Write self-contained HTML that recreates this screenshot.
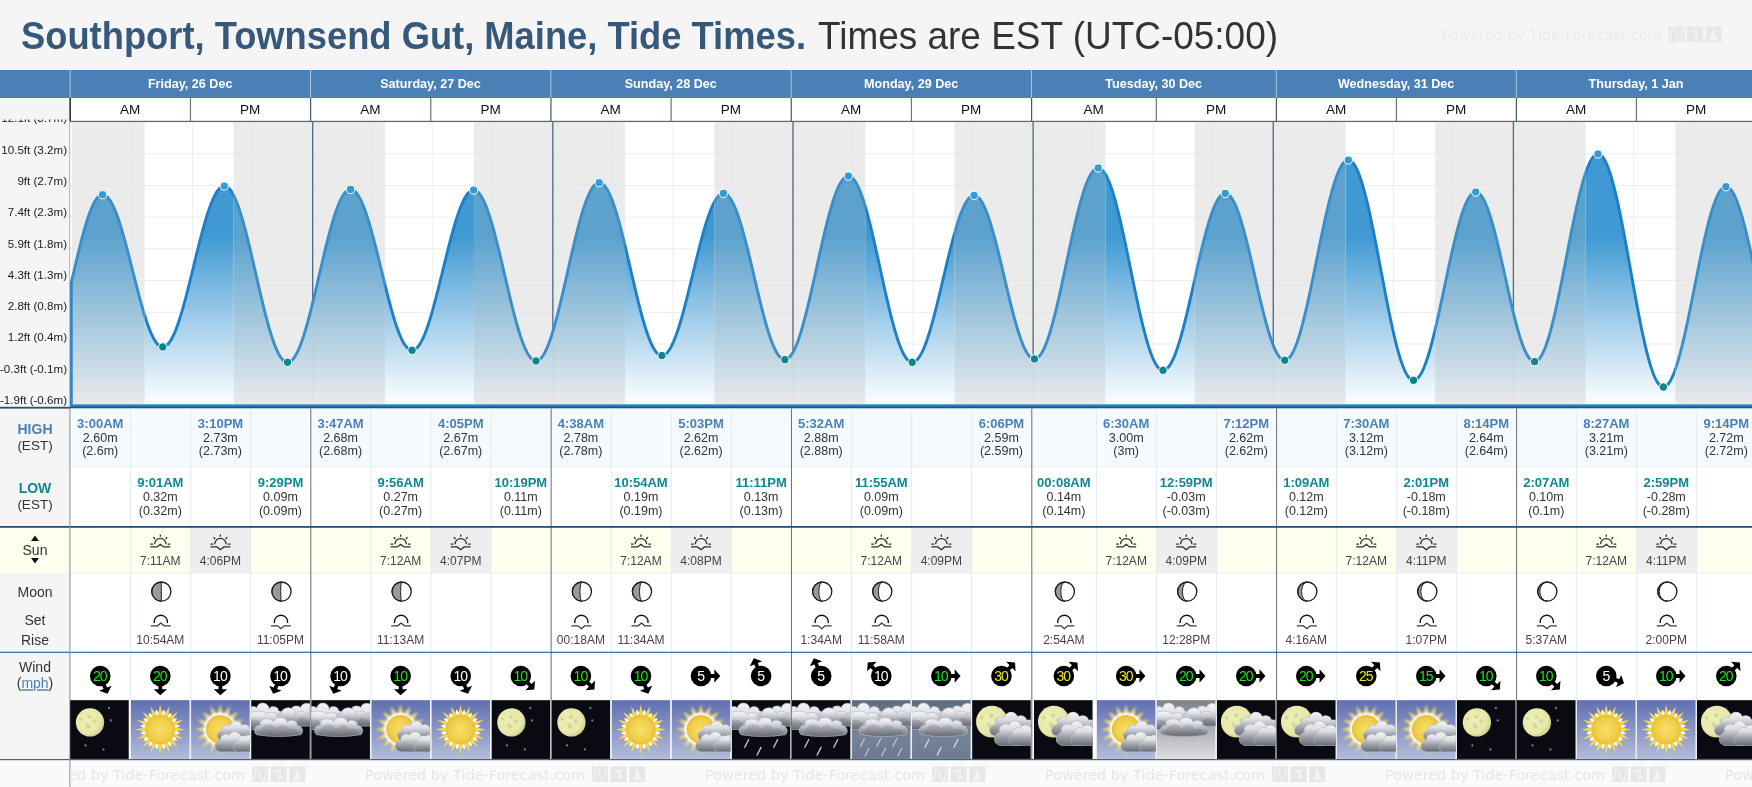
<!DOCTYPE html>
<html lang="en"><head><meta charset="utf-8"><title>Southport, Townsend Gut, Maine, Tide Times</title>
<style>html,body{margin:0;padding:0;background:#f5f5f5;}body{width:1752px;height:787px;overflow:hidden;}svg{display:block;will-change:transform;}</style>
</head><body>
<svg width="1752" height="787" viewBox="0 0 1752 787" font-family='"Liberation Sans", sans-serif'>
<defs>
<linearGradient id="tideFill" gradientUnits="userSpaceOnUse" x1="0" y1="122" x2="0" y2="406">
<stop offset="0" stop-color="#4099d2"/><stop offset="0.40" stop-color="#4099d2"/><stop offset="1" stop-color="#ffffff" stop-opacity="0.95"/></linearGradient>
<clipPath id="chartClip"><rect x="70" y="122" width="1682" height="286"/></clipPath>
<clipPath id="axisClip"><rect x="0" y="119.4" width="70" height="288"/></clipPath>
<clipPath id="footClip"><rect x="70" y="760" width="1682" height="27"/></clipPath>
</defs>
<rect width="1752" height="787" fill="#f5f5f5"/>
<text x="21" y="49" font-size="39" font-weight="bold" fill="#35587b" textLength="785" lengthAdjust="spacingAndGlyphs">Southport, Townsend Gut, Maine, Tide Times.</text>
<text x="818" y="49" font-size="39" fill="#333333" textLength="460" lengthAdjust="spacingAndGlyphs">Times are EST (UTC-05:00)</text>
<text x="1441.5" y="39.6" font-family="DejaVu Sans, sans-serif" font-size="14.4" fill="#ebebeb" textLength="220" lengthAdjust="spacingAndGlyphs">Powered by Tide-Forecast.com</text>
<rect x="1668.5" y="26.6" width="16" height="15.5" fill="#e7e7e7"/>
<rect x="1687.1" y="26.6" width="16" height="15.5" fill="#e7e7e7"/>
<rect x="1705.7" y="26.6" width="16" height="15.5" fill="#e7e7e7"/>
<path d="M1670.0,40.6 C1672.0,24.6 1674.0,24.6 1676.5,34.6 S1681.0,44.6 1683.0,28.1" fill="none" stroke="#f3f3f3" stroke-width="1.3"/>
<path d="M1690.1,31.1 H1696.6 V36.6" fill="none" stroke="#f3f3f3" stroke-width="1.8"/><path d="M1693.1,35.8 H1700.1 L1696.6,39.8 Z" fill="#f3f3f3"/>
<path d="M1713.7,28.6 L1717.9,40.6 H1709.5 Z" fill="#f3f3f3"/>
<rect x="0" y="70" width="1752" height="28" fill="#4a80b5"/>
<rect x="69.7" y="70" width="1" height="28" fill="#a9c2dd"/>
<text x="190.16" y="88" font-size="12.6" font-weight="bold" fill="#ffffff" text-anchor="middle">Friday, 26 Dec</text>
<rect x="310.02" y="70" width="1" height="28" fill="#a9c2dd"/>
<text x="430.48" y="88" font-size="12.6" font-weight="bold" fill="#ffffff" text-anchor="middle">Saturday, 27 Dec</text>
<rect x="550.34" y="70" width="1" height="28" fill="#a9c2dd"/>
<text x="670.8" y="88" font-size="12.6" font-weight="bold" fill="#ffffff" text-anchor="middle">Sunday, 28 Dec</text>
<rect x="790.6600000000001" y="70" width="1" height="28" fill="#a9c2dd"/>
<text x="911.13" y="88" font-size="12.6" font-weight="bold" fill="#ffffff" text-anchor="middle">Monday, 29 Dec</text>
<rect x="1031.0" y="70" width="1" height="28" fill="#a9c2dd"/>
<text x="1153.6999999999998" y="88" font-size="12.6" font-weight="bold" fill="#ffffff" text-anchor="middle">Tuesday, 30 Dec</text>
<rect x="1275.8" y="70" width="1" height="28" fill="#a9c2dd"/>
<text x="1396.1" y="88" font-size="12.6" font-weight="bold" fill="#ffffff" text-anchor="middle">Wednesday, 31 Dec</text>
<rect x="1515.8" y="70" width="1" height="28" fill="#a9c2dd"/>
<text x="1636.1" y="88" font-size="12.6" font-weight="bold" fill="#ffffff" text-anchor="middle">Thursday, 1 Jan</text>
<rect x="70" y="98" width="1682" height="23" fill="#ffffff"/>
<rect x="69.7" y="98" width="1.2" height="23" fill="#3d5a78"/>
<rect x="189.85999999999999" y="98" width="1.2" height="23" fill="#5d7892"/>
<text x="130.07999999999998" y="114" font-size="13.5" fill="#111" text-anchor="middle">AM</text>
<text x="250.24" y="114" font-size="13.5" fill="#111" text-anchor="middle">PM</text>
<rect x="310.02" y="98" width="1.2" height="23" fill="#3d5a78"/>
<rect x="430.18" y="98" width="1.2" height="23" fill="#5d7892"/>
<text x="370.4" y="114" font-size="13.5" fill="#111" text-anchor="middle">AM</text>
<text x="490.56" y="114" font-size="13.5" fill="#111" text-anchor="middle">PM</text>
<rect x="550.34" y="98" width="1.2" height="23" fill="#3d5a78"/>
<rect x="670.5" y="98" width="1.2" height="23" fill="#5d7892"/>
<text x="610.72" y="114" font-size="13.5" fill="#111" text-anchor="middle">AM</text>
<text x="730.88" y="114" font-size="13.5" fill="#111" text-anchor="middle">PM</text>
<rect x="790.6600000000001" y="98" width="1.2" height="23" fill="#3d5a78"/>
<rect x="910.82" y="98" width="1.2" height="23" fill="#5d7892"/>
<text x="851.04" y="114" font-size="13.5" fill="#111" text-anchor="middle">AM</text>
<text x="971.21" y="114" font-size="13.5" fill="#111" text-anchor="middle">PM</text>
<rect x="1031.0" y="98" width="1.2" height="23" fill="#3d5a78"/>
<rect x="1155.7" y="98" width="1.2" height="23" fill="#5d7892"/>
<text x="1093.65" y="114" font-size="13.5" fill="#111" text-anchor="middle">AM</text>
<text x="1216.05" y="114" font-size="13.5" fill="#111" text-anchor="middle">PM</text>
<rect x="1275.8" y="98" width="1.2" height="23" fill="#3d5a78"/>
<rect x="1395.8" y="98" width="1.2" height="23" fill="#5d7892"/>
<text x="1336.1" y="114" font-size="13.5" fill="#111" text-anchor="middle">AM</text>
<text x="1456.1" y="114" font-size="13.5" fill="#111" text-anchor="middle">PM</text>
<rect x="1515.8" y="98" width="1.2" height="23" fill="#3d5a78"/>
<rect x="1635.8" y="98" width="1.2" height="23" fill="#5d7892"/>
<text x="1576.1" y="114" font-size="13.5" fill="#111" text-anchor="middle">AM</text>
<text x="1696.1" y="114" font-size="13.5" fill="#111" text-anchor="middle">PM</text>
<rect x="69.5" y="98" width="1.2" height="23.5" fill="#1c2c3c"/>
<rect x="70" y="120.8" width="1682" height="1.3" fill="#666"/>
<g clip-path="url(#chartClip)">
<rect x="70" y="122" width="1682" height="285" fill="#ffffff"/>
<rect x="70" y="121.50" width="1682" height="1" fill="#ececec"/>
<rect x="70" y="153.22" width="1682" height="1" fill="#ececec"/>
<rect x="70" y="184.94" width="1682" height="1" fill="#ececec"/>
<rect x="70" y="216.66" width="1682" height="1" fill="#ececec"/>
<rect x="70" y="248.38" width="1682" height="1" fill="#ececec"/>
<rect x="70" y="280.10" width="1682" height="1" fill="#ececec"/>
<rect x="70" y="311.82" width="1682" height="1" fill="#ececec"/>
<rect x="70" y="343.54" width="1682" height="1" fill="#ececec"/>
<rect x="70" y="375.26" width="1682" height="1" fill="#ececec"/>
<rect x="70" y="406.98" width="1682" height="1" fill="#ececec"/>
<rect x="132.09" y="122" width="1" height="285" fill="#efefef"/>
<rect x="192.12" y="122" width="1" height="285" fill="#efefef"/>
<rect x="252.16" y="122" width="1" height="285" fill="#efefef"/>
<rect x="372.23" y="122" width="1" height="285" fill="#efefef"/>
<rect x="432.27" y="122" width="1" height="285" fill="#efefef"/>
<rect x="492.30" y="122" width="1" height="285" fill="#efefef"/>
<rect x="612.37" y="122" width="1" height="285" fill="#efefef"/>
<rect x="672.41" y="122" width="1" height="285" fill="#efefef"/>
<rect x="732.45" y="122" width="1" height="285" fill="#efefef"/>
<rect x="852.52" y="122" width="1" height="285" fill="#efefef"/>
<rect x="912.55" y="122" width="1" height="285" fill="#efefef"/>
<rect x="972.59" y="122" width="1" height="285" fill="#efefef"/>
<rect x="1092.66" y="122" width="1" height="285" fill="#efefef"/>
<rect x="1152.70" y="122" width="1" height="285" fill="#efefef"/>
<rect x="1212.73" y="122" width="1" height="285" fill="#efefef"/>
<rect x="1332.81" y="122" width="1" height="285" fill="#efefef"/>
<rect x="1392.84" y="122" width="1" height="285" fill="#efefef"/>
<rect x="1452.88" y="122" width="1" height="285" fill="#efefef"/>
<rect x="1572.95" y="122" width="1" height="285" fill="#efefef"/>
<rect x="1632.99" y="122" width="1" height="285" fill="#efefef"/>
<rect x="1693.02" y="122" width="1" height="285" fill="#efefef"/>
<rect x="71.95" y="122" width="72.68" height="285" fill="#ebebeb"/>
<rect x="233.65" y="122" width="151.29" height="285" fill="#ebebeb"/>
<rect x="473.96" y="122" width="151.12" height="285" fill="#ebebeb"/>
<rect x="714.27" y="122" width="150.96" height="285" fill="#ebebeb"/>
<rect x="954.58" y="122" width="150.79" height="285" fill="#ebebeb"/>
<rect x="1194.72" y="122" width="150.79" height="285" fill="#ebebeb"/>
<rect x="1435.20" y="122" width="150.46" height="285" fill="#ebebeb"/>
<rect x="1675.34" y="122" width="76.66" height="285" fill="#ebebeb"/>
<g fill="#e5e5e5">
<rect x="71.95" y="121.50" width="72.68" height="1"/>
<rect x="71.95" y="153.22" width="72.68" height="1"/>
<rect x="71.95" y="184.94" width="72.68" height="1"/>
<rect x="71.95" y="216.66" width="72.68" height="1"/>
<rect x="71.95" y="248.38" width="72.68" height="1"/>
<rect x="71.95" y="280.10" width="72.68" height="1"/>
<rect x="71.95" y="311.82" width="72.68" height="1"/>
<rect x="71.95" y="343.54" width="72.68" height="1"/>
<rect x="71.95" y="375.26" width="72.68" height="1"/>
<rect x="71.95" y="406.98" width="72.68" height="1"/>
<rect x="132.09" y="122" width="1" height="285" fill="#e7e7e7"/>
<rect x="233.65" y="121.50" width="151.29" height="1"/>
<rect x="233.65" y="153.22" width="151.29" height="1"/>
<rect x="233.65" y="184.94" width="151.29" height="1"/>
<rect x="233.65" y="216.66" width="151.29" height="1"/>
<rect x="233.65" y="248.38" width="151.29" height="1"/>
<rect x="233.65" y="280.10" width="151.29" height="1"/>
<rect x="233.65" y="311.82" width="151.29" height="1"/>
<rect x="233.65" y="343.54" width="151.29" height="1"/>
<rect x="233.65" y="375.26" width="151.29" height="1"/>
<rect x="233.65" y="406.98" width="151.29" height="1"/>
<rect x="252.16" y="122" width="1" height="285" fill="#e7e7e7"/>
<rect x="372.23" y="122" width="1" height="285" fill="#e7e7e7"/>
<rect x="473.96" y="121.50" width="151.12" height="1"/>
<rect x="473.96" y="153.22" width="151.12" height="1"/>
<rect x="473.96" y="184.94" width="151.12" height="1"/>
<rect x="473.96" y="216.66" width="151.12" height="1"/>
<rect x="473.96" y="248.38" width="151.12" height="1"/>
<rect x="473.96" y="280.10" width="151.12" height="1"/>
<rect x="473.96" y="311.82" width="151.12" height="1"/>
<rect x="473.96" y="343.54" width="151.12" height="1"/>
<rect x="473.96" y="375.26" width="151.12" height="1"/>
<rect x="473.96" y="406.98" width="151.12" height="1"/>
<rect x="492.30" y="122" width="1" height="285" fill="#e7e7e7"/>
<rect x="612.37" y="122" width="1" height="285" fill="#e7e7e7"/>
<rect x="714.27" y="121.50" width="150.96" height="1"/>
<rect x="714.27" y="153.22" width="150.96" height="1"/>
<rect x="714.27" y="184.94" width="150.96" height="1"/>
<rect x="714.27" y="216.66" width="150.96" height="1"/>
<rect x="714.27" y="248.38" width="150.96" height="1"/>
<rect x="714.27" y="280.10" width="150.96" height="1"/>
<rect x="714.27" y="311.82" width="150.96" height="1"/>
<rect x="714.27" y="343.54" width="150.96" height="1"/>
<rect x="714.27" y="375.26" width="150.96" height="1"/>
<rect x="714.27" y="406.98" width="150.96" height="1"/>
<rect x="732.45" y="122" width="1" height="285" fill="#e7e7e7"/>
<rect x="852.52" y="122" width="1" height="285" fill="#e7e7e7"/>
<rect x="954.58" y="121.50" width="150.79" height="1"/>
<rect x="954.58" y="153.22" width="150.79" height="1"/>
<rect x="954.58" y="184.94" width="150.79" height="1"/>
<rect x="954.58" y="216.66" width="150.79" height="1"/>
<rect x="954.58" y="248.38" width="150.79" height="1"/>
<rect x="954.58" y="280.10" width="150.79" height="1"/>
<rect x="954.58" y="311.82" width="150.79" height="1"/>
<rect x="954.58" y="343.54" width="150.79" height="1"/>
<rect x="954.58" y="375.26" width="150.79" height="1"/>
<rect x="954.58" y="406.98" width="150.79" height="1"/>
<rect x="972.59" y="122" width="1" height="285" fill="#e7e7e7"/>
<rect x="1092.66" y="122" width="1" height="285" fill="#e7e7e7"/>
<rect x="1194.72" y="121.50" width="150.79" height="1"/>
<rect x="1194.72" y="153.22" width="150.79" height="1"/>
<rect x="1194.72" y="184.94" width="150.79" height="1"/>
<rect x="1194.72" y="216.66" width="150.79" height="1"/>
<rect x="1194.72" y="248.38" width="150.79" height="1"/>
<rect x="1194.72" y="280.10" width="150.79" height="1"/>
<rect x="1194.72" y="311.82" width="150.79" height="1"/>
<rect x="1194.72" y="343.54" width="150.79" height="1"/>
<rect x="1194.72" y="375.26" width="150.79" height="1"/>
<rect x="1194.72" y="406.98" width="150.79" height="1"/>
<rect x="1212.73" y="122" width="1" height="285" fill="#e7e7e7"/>
<rect x="1332.81" y="122" width="1" height="285" fill="#e7e7e7"/>
<rect x="1435.20" y="121.50" width="150.46" height="1"/>
<rect x="1435.20" y="153.22" width="150.46" height="1"/>
<rect x="1435.20" y="184.94" width="150.46" height="1"/>
<rect x="1435.20" y="216.66" width="150.46" height="1"/>
<rect x="1435.20" y="248.38" width="150.46" height="1"/>
<rect x="1435.20" y="280.10" width="150.46" height="1"/>
<rect x="1435.20" y="311.82" width="150.46" height="1"/>
<rect x="1435.20" y="343.54" width="150.46" height="1"/>
<rect x="1435.20" y="375.26" width="150.46" height="1"/>
<rect x="1435.20" y="406.98" width="150.46" height="1"/>
<rect x="1452.88" y="122" width="1" height="285" fill="#e7e7e7"/>
<rect x="1572.95" y="122" width="1" height="285" fill="#e7e7e7"/>
<rect x="1675.34" y="121.50" width="76.66" height="1"/>
<rect x="1675.34" y="153.22" width="76.66" height="1"/>
<rect x="1675.34" y="184.94" width="76.66" height="1"/>
<rect x="1675.34" y="216.66" width="76.66" height="1"/>
<rect x="1675.34" y="248.38" width="76.66" height="1"/>
<rect x="1675.34" y="280.10" width="76.66" height="1"/>
<rect x="1675.34" y="311.82" width="76.66" height="1"/>
<rect x="1675.34" y="343.54" width="76.66" height="1"/>
<rect x="1675.34" y="375.26" width="76.66" height="1"/>
<rect x="1675.34" y="406.98" width="76.66" height="1"/>
<rect x="1693.02" y="122" width="1" height="285" fill="#e7e7e7"/>
</g>
<rect x="312.04" y="122" width="1.3" height="285" fill="#4a6888"/>
<rect x="552.19" y="122" width="1.3" height="285" fill="#4a6888"/>
<rect x="792.33" y="122" width="1.3" height="285" fill="#4a6888"/>
<rect x="1032.48" y="122" width="1.3" height="285" fill="#4a6888"/>
<rect x="1272.62" y="122" width="1.3" height="285" fill="#4a6888"/>
<rect x="1512.76" y="122" width="1.3" height="285" fill="#4a6888"/>
<defs><path id="tideP" d="M71.35,406 L71.35,284.04 L71.05,284.04 L72.05,279.70 L73.05,275.35 L74.05,271.01 L75.05,266.69 L76.05,262.40 L77.05,258.15 L78.05,253.96 L79.05,249.84 L80.05,245.79 L81.06,241.83 L82.06,237.96 L83.06,234.21 L84.06,230.58 L85.06,227.07 L86.06,223.71 L87.06,220.49 L88.06,217.42 L89.06,214.53 L90.06,211.80 L91.06,209.26 L92.06,206.90 L93.06,204.74 L94.06,202.77 L95.06,201.01 L96.06,199.46 L97.06,198.13 L98.07,197.01 L99.07,196.11 L100.07,195.43 L101.07,194.98 L102.07,194.75 L103.07,194.75 L104.07,194.96 L105.07,195.37 L106.07,195.99 L107.07,196.82 L108.07,197.84 L109.07,199.06 L110.07,200.48 L111.07,202.10 L112.07,203.90 L113.07,205.88 L114.07,208.04 L115.08,210.37 L116.08,212.86 L117.08,215.51 L118.08,218.32 L119.08,221.26 L120.08,224.34 L121.08,227.55 L122.08,230.88 L123.08,234.31 L124.08,237.85 L125.08,241.47 L126.08,245.18 L127.08,248.95 L128.08,252.78 L129.08,256.67 L130.08,260.59 L131.09,264.54 L132.09,268.51 L133.09,272.48 L134.09,276.45 L135.09,280.40 L136.09,284.33 L137.09,288.22 L138.09,292.06 L139.09,295.85 L140.09,299.56 L141.09,303.20 L142.09,306.75 L143.09,310.21 L144.09,313.55 L145.09,316.78 L146.09,319.88 L147.09,322.85 L148.10,325.68 L149.10,328.36 L150.10,330.88 L151.10,333.24 L152.10,335.43 L153.10,337.44 L154.10,339.27 L155.10,340.92 L156.10,342.37 L157.10,343.63 L158.10,344.69 L159.10,345.54 L160.10,346.20 L161.10,346.65 L162.10,346.89 L163.10,346.93 L164.10,346.75 L165.11,346.37 L166.11,345.78 L167.11,344.98 L168.11,343.97 L169.11,342.77 L170.11,341.36 L171.11,339.76 L172.11,337.97 L173.11,335.99 L174.11,333.84 L175.11,331.50 L176.11,329.00 L177.11,326.33 L178.11,323.51 L179.11,320.53 L180.11,317.42 L181.12,314.17 L182.12,310.80 L183.12,307.32 L184.12,303.72 L185.12,300.04 L186.12,296.26 L187.12,292.40 L188.12,288.48 L189.12,284.50 L190.12,280.47 L191.12,276.41 L192.12,272.32 L193.12,268.22 L194.12,264.11 L195.12,260.01 L196.12,255.92 L197.12,251.86 L198.13,247.84 L199.13,243.87 L200.13,239.96 L201.13,236.11 L202.13,232.35 L203.13,228.68 L204.13,225.10 L205.13,221.63 L206.13,218.28 L207.13,215.05 L208.13,211.96 L209.13,209.01 L210.13,206.22 L211.13,203.57 L212.13,201.10 L213.13,198.79 L214.13,196.66 L215.14,194.71 L216.14,192.95 L217.14,191.38 L218.14,190.01 L219.14,188.83 L220.14,187.86 L221.14,187.10 L222.14,186.54 L223.14,186.19 L224.14,186.05 L225.14,186.12 L226.14,186.41 L227.14,186.92 L228.14,187.64 L229.14,188.58 L230.14,189.72 L231.15,191.08 L232.15,192.64 L233.15,194.41 L234.15,196.37 L235.15,198.52 L236.15,200.87 L237.15,203.39 L238.15,206.09 L239.15,208.95 L240.15,211.98 L241.15,215.16 L242.15,218.49 L243.15,221.95 L244.15,225.55 L245.15,229.26 L246.15,233.09 L247.15,237.01 L248.16,241.03 L249.16,245.13 L250.16,249.31 L251.16,253.54 L252.16,257.83 L253.16,262.15 L254.16,266.51 L255.16,270.88 L256.16,275.26 L257.16,279.64 L258.16,284.01 L259.16,288.35 L260.16,292.66 L261.16,296.92 L262.16,301.12 L263.16,305.26 L264.16,309.32 L265.17,313.30 L266.17,317.18 L267.17,320.95 L268.17,324.60 L269.17,328.13 L270.17,331.53 L271.17,334.78 L272.17,337.89 L273.17,340.84 L274.17,343.62 L275.17,346.23 L276.17,348.66 L277.17,350.91 L278.17,352.97 L279.17,354.83 L280.17,356.50 L281.18,357.96 L282.18,359.21 L283.18,360.26 L284.18,361.09 L285.18,361.70 L286.18,362.10 L287.18,362.28 L288.18,362.24 L289.18,361.99 L290.18,361.53 L291.18,360.85 L292.18,359.96 L293.18,358.86 L294.18,357.55 L295.18,356.04 L296.18,354.34 L297.18,352.43 L298.19,350.34 L299.19,348.06 L300.19,345.60 L301.19,342.97 L302.19,340.17 L303.19,337.21 L304.19,334.10 L305.19,330.85 L306.19,327.45 L307.19,323.93 L308.19,320.29 L309.19,316.54 L310.19,312.69 L311.19,308.74 L312.19,304.72 L313.19,300.62 L314.19,296.46 L315.20,292.25 L316.20,288.00 L317.20,283.72 L318.20,279.41 L319.20,275.10 L320.20,270.80 L321.20,266.50 L322.20,262.23 L323.20,257.99 L324.20,253.79 L325.20,249.66 L326.20,245.58 L327.20,241.58 L328.20,237.67 L329.20,233.85 L330.20,230.13 L331.21,226.53 L332.21,223.05 L333.21,219.71 L334.21,216.50 L335.21,213.44 L336.21,210.53 L337.21,207.79 L338.21,205.22 L339.21,202.82 L340.21,200.60 L341.21,198.57 L342.21,196.74 L343.21,195.09 L344.21,193.65 L345.21,192.42 L346.21,191.39 L347.21,190.57 L348.22,189.97 L349.22,189.57 L350.22,189.39 L351.22,189.43 L352.22,189.68 L353.22,190.13 L354.22,190.79 L355.22,191.66 L356.22,192.73 L357.22,194.01 L358.22,195.48 L359.22,197.14 L360.22,199.00 L361.22,201.04 L362.22,203.26 L363.22,205.65 L364.22,208.21 L365.23,210.93 L366.23,213.81 L367.23,216.83 L368.23,219.99 L369.23,223.28 L370.23,226.69 L371.23,230.21 L372.23,233.84 L373.23,237.56 L374.23,241.36 L375.23,245.24 L376.23,249.19 L377.23,253.18 L378.23,257.22 L379.23,261.30 L380.23,265.39 L381.24,269.50 L382.24,273.61 L383.24,277.71 L384.24,281.78 L385.24,285.83 L386.24,289.84 L387.24,293.79 L388.24,297.68 L389.24,301.49 L390.24,305.23 L391.24,308.87 L392.24,312.41 L393.24,315.84 L394.24,319.15 L395.24,322.33 L396.24,325.38 L397.24,328.27 L398.25,331.02 L399.25,333.61 L400.25,336.03 L401.25,338.27 L402.25,340.34 L403.25,342.23 L404.25,343.93 L405.25,345.43 L406.25,346.73 L407.25,347.84 L408.25,348.74 L409.25,349.44 L410.25,349.92 L411.25,350.20 L412.25,350.27 L413.25,350.13 L414.25,349.78 L415.26,349.23 L416.26,348.46 L417.26,347.50 L418.26,346.33 L419.26,344.96 L420.26,343.40 L421.26,341.65 L422.26,339.70 L423.26,337.58 L424.26,335.29 L425.26,332.82 L426.26,330.19 L427.26,327.40 L428.26,324.46 L429.26,321.39 L430.26,318.17 L431.27,314.84 L432.27,311.38 L433.27,307.82 L434.27,304.16 L435.27,300.41 L436.27,296.59 L437.27,292.69 L438.27,288.74 L439.27,284.73 L440.27,280.69 L441.27,276.62 L442.27,272.54 L443.27,268.44 L444.27,264.36 L445.27,260.28 L446.27,256.24 L447.27,252.23 L448.28,248.26 L449.28,244.36 L450.28,240.52 L451.28,236.76 L452.28,233.08 L453.28,229.51 L454.28,226.03 L455.28,222.68 L456.28,219.45 L457.28,216.34 L458.28,213.38 L459.28,210.57 L460.28,207.92 L461.28,205.42 L462.28,203.10 L463.28,200.95 L464.28,198.98 L465.29,197.19 L466.29,195.60 L467.29,194.20 L468.29,193.00 L469.29,192.00 L470.29,191.21 L471.29,190.62 L472.29,190.24 L473.29,190.06 L474.29,190.10 L475.29,190.35 L476.29,190.82 L477.29,191.51 L478.29,192.41 L479.29,193.52 L480.29,194.83 L481.30,196.36 L482.30,198.08 L483.30,200.00 L484.30,202.11 L485.30,204.41 L486.30,206.89 L487.30,209.54 L488.30,212.36 L489.30,215.34 L490.30,218.47 L491.30,221.75 L492.30,225.16 L493.30,228.71 L494.30,232.37 L495.30,236.14 L496.30,240.01 L497.30,243.97 L498.31,248.01 L499.31,252.12 L500.31,256.29 L501.31,260.51 L502.31,264.77 L503.31,269.05 L504.31,273.35 L505.31,277.66 L506.31,281.96 L507.31,286.24 L508.31,290.50 L509.31,294.72 L510.31,298.89 L511.31,303.00 L512.31,307.04 L513.31,311.00 L514.31,314.87 L515.32,318.64 L516.32,322.30 L517.32,325.84 L518.32,329.26 L519.32,332.54 L520.32,335.67 L521.32,338.65 L522.32,341.47 L523.32,344.12 L524.32,346.60 L525.32,348.90 L526.32,351.01 L527.32,352.93 L528.32,354.65 L529.32,356.17 L530.32,357.49 L531.33,358.60 L532.33,359.50 L533.33,360.18 L534.33,360.65 L535.33,360.91 L536.33,360.94 L537.33,360.76 L538.33,360.36 L539.33,359.74 L540.33,358.90 L541.33,357.84 L542.33,356.58 L543.33,355.10 L544.33,353.42 L545.33,351.53 L546.33,349.45 L547.33,347.17 L548.34,344.71 L549.34,342.07 L550.34,339.26 L551.34,336.28 L552.34,333.14 L553.34,329.84 L554.34,326.41 L555.34,322.84 L556.34,319.14 L557.34,315.33 L558.34,311.41 L559.34,307.39 L560.34,303.28 L561.34,299.09 L562.34,294.84 L563.34,290.53 L564.34,286.18 L565.35,281.79 L566.35,277.37 L567.35,272.94 L568.35,268.51 L569.35,264.08 L570.35,259.68 L571.35,255.30 L572.35,250.97 L573.35,246.69 L574.35,242.47 L575.35,238.32 L576.35,234.26 L577.35,230.28 L578.35,226.41 L579.35,222.66 L580.35,219.02 L581.36,215.52 L582.36,212.15 L583.36,208.94 L584.36,205.87 L585.36,202.98 L586.36,200.25 L587.36,197.70 L588.36,195.33 L589.36,193.15 L590.36,191.17 L591.36,189.38 L592.36,187.80 L593.36,186.43 L594.36,185.27 L595.36,184.32 L596.36,183.59 L597.36,183.08 L598.37,182.78 L599.37,182.71 L600.37,182.86 L601.37,183.22 L602.37,183.80 L603.37,184.59 L604.37,185.59 L605.37,186.81 L606.37,188.23 L607.37,189.86 L608.37,191.68 L609.37,193.70 L610.37,195.91 L611.37,198.30 L612.37,200.87 L613.37,203.62 L614.37,206.52 L615.38,209.59 L616.38,212.80 L617.38,216.16 L618.38,219.65 L619.38,223.26 L620.38,226.99 L621.38,230.82 L622.38,234.76 L623.38,238.77 L624.38,242.87 L625.38,247.03 L626.38,251.24 L627.38,255.50 L628.38,259.80 L629.38,264.12 L630.38,268.45 L631.39,272.78 L632.39,277.10 L633.39,281.41 L634.39,285.68 L635.39,289.91 L636.39,294.09 L637.39,298.21 L638.39,302.25 L639.39,306.21 L640.39,310.08 L641.39,313.84 L642.39,317.50 L643.39,321.03 L644.39,324.43 L645.39,327.69 L646.39,330.80 L647.39,333.76 L648.40,336.56 L649.40,339.19 L650.40,341.64 L651.40,343.91 L652.40,346.00 L653.40,347.89 L654.40,349.58 L655.40,351.07 L656.40,352.35 L657.40,353.43 L658.40,354.29 L659.40,354.94 L660.40,355.37 L661.40,355.59 L662.40,355.59 L663.40,355.38 L664.40,354.96 L665.41,354.32 L666.41,353.48 L667.41,352.44 L668.41,351.19 L669.41,349.74 L670.41,348.09 L671.41,346.25 L672.41,344.22 L673.41,342.02 L674.41,339.63 L675.41,337.08 L676.41,334.36 L677.41,331.49 L678.41,328.47 L679.41,325.31 L680.41,322.01 L681.42,318.59 L682.42,315.06 L683.42,311.42 L684.42,307.68 L685.42,303.86 L686.42,299.96 L687.42,296.00 L688.42,291.97 L689.42,287.91 L690.42,283.80 L691.42,279.68 L692.42,275.54 L693.42,271.40 L694.42,267.26 L695.42,263.15 L696.42,259.06 L697.42,255.01 L698.43,251.02 L699.43,247.08 L700.43,243.22 L701.43,239.44 L702.43,235.75 L703.43,232.16 L704.43,228.69 L705.43,225.33 L706.43,222.10 L707.43,219.01 L708.43,216.06 L709.43,213.26 L710.43,210.63 L711.43,208.16 L712.43,205.86 L713.43,203.74 L714.43,201.81 L715.44,200.07 L716.44,198.52 L717.44,197.17 L718.44,196.02 L719.44,195.08 L720.44,194.34 L721.44,193.81 L722.44,193.49 L723.44,193.39 L724.44,193.50 L725.44,193.82 L726.44,194.37 L727.44,195.13 L728.44,196.10 L729.44,197.28 L730.44,198.68 L731.45,200.27 L732.45,202.07 L733.45,204.06 L734.45,206.24 L735.45,208.60 L736.45,211.15 L737.45,213.86 L738.45,216.74 L739.45,219.78 L740.45,222.96 L741.45,226.29 L742.45,229.74 L743.45,233.32 L744.45,237.02 L745.45,240.81 L746.45,244.70 L747.45,248.68 L748.46,252.72 L749.46,256.83 L750.46,260.99 L751.46,265.19 L752.46,269.42 L753.46,273.67 L754.46,277.93 L755.46,282.18 L756.46,286.42 L757.46,290.64 L758.46,294.81 L759.46,298.94 L760.46,303.01 L761.46,307.00 L762.46,310.92 L763.46,314.75 L764.46,318.48 L765.47,322.10 L766.47,325.60 L767.47,328.97 L768.47,332.20 L769.47,335.28 L770.47,338.22 L771.47,340.99 L772.47,343.59 L773.47,346.01 L774.47,348.25 L775.47,350.31 L776.47,352.17 L777.47,353.83 L778.47,355.29 L779.47,356.54 L780.47,357.59 L781.48,358.41 L782.48,359.03 L783.48,359.43 L784.48,359.61 L785.48,359.57 L786.48,359.31 L787.48,358.82 L788.48,358.11 L789.48,357.18 L790.48,356.03 L791.48,354.67 L792.48,353.09 L793.48,351.31 L794.48,349.32 L795.48,347.13 L796.48,344.74 L797.48,342.17 L798.49,339.42 L799.49,336.49 L800.49,333.39 L801.49,330.13 L802.49,326.72 L803.49,323.17 L804.49,319.48 L805.49,315.66 L806.49,311.73 L807.49,307.69 L808.49,303.55 L809.49,299.33 L810.49,295.02 L811.49,290.65 L812.49,286.23 L813.49,281.76 L814.49,277.26 L815.50,272.73 L816.50,268.19 L817.50,263.65 L818.50,259.12 L819.50,254.61 L820.50,250.14 L821.50,245.70 L822.50,241.32 L823.50,237.01 L824.50,232.77 L825.50,228.62 L826.50,224.56 L827.50,220.61 L828.50,216.78 L829.50,213.07 L830.50,209.49 L831.51,206.06 L832.51,202.77 L833.51,199.65 L834.51,196.69 L835.51,193.91 L836.51,191.31 L837.51,188.90 L838.51,186.67 L839.51,184.65 L840.51,182.83 L841.51,181.22 L842.51,179.82 L843.51,178.64 L844.51,177.67 L845.51,176.93 L846.51,176.41 L847.51,176.11 L848.52,176.03 L849.52,176.19 L850.52,176.56 L851.52,177.16 L852.52,177.99 L853.52,179.03 L854.52,180.29 L855.52,181.77 L856.52,183.46 L857.52,185.35 L858.52,187.45 L859.52,189.75 L860.52,192.24 L861.52,194.92 L862.52,197.77 L863.52,200.80 L864.52,203.99 L865.53,207.34 L866.53,210.85 L867.53,214.49 L868.53,218.26 L869.53,222.16 L870.53,226.17 L871.53,230.29 L872.53,234.50 L873.53,238.79 L874.53,243.16 L875.53,247.59 L876.53,252.07 L877.53,256.60 L878.53,261.15 L879.53,265.72 L880.53,270.31 L881.54,274.89 L882.54,279.45 L883.54,283.99 L884.54,288.50 L885.54,292.96 L886.54,297.36 L887.54,301.69 L888.54,305.94 L889.54,310.11 L890.54,314.17 L891.54,318.13 L892.54,321.96 L893.54,325.67 L894.54,329.25 L895.54,332.67 L896.54,335.95 L897.54,339.06 L898.55,342.00 L899.55,344.77 L900.55,347.35 L901.55,349.75 L902.55,351.94 L903.55,353.94 L904.55,355.74 L905.55,357.32 L906.55,358.69 L907.55,359.84 L908.55,360.78 L909.55,361.49 L910.55,361.98 L911.55,362.24 L912.55,362.28 L913.55,362.10 L914.55,361.71 L915.56,361.10 L916.56,360.28 L917.56,359.25 L918.56,358.01 L919.56,356.57 L920.56,354.93 L921.56,353.09 L922.56,351.06 L923.56,348.84 L924.56,346.44 L925.56,343.87 L926.56,341.13 L927.56,338.23 L928.56,335.18 L929.56,331.98 L930.56,328.64 L931.57,325.18 L932.57,321.59 L933.57,317.90 L934.57,314.10 L935.57,310.21 L936.57,306.24 L937.57,302.21 L938.57,298.11 L939.57,293.96 L940.57,289.77 L941.57,285.55 L942.57,281.32 L943.57,277.08 L944.57,272.85 L945.57,268.63 L946.57,264.43 L947.57,260.28 L948.58,256.17 L949.58,252.12 L950.58,248.14 L951.58,244.24 L952.58,240.43 L953.58,236.71 L954.58,233.11 L955.58,229.62 L956.58,226.26 L957.58,223.04 L958.58,219.96 L959.58,217.03 L960.58,214.27 L961.58,211.66 L962.58,209.24 L963.58,206.99 L964.58,204.93 L965.59,203.05 L966.59,201.38 L967.59,199.90 L968.59,198.63 L969.59,197.56 L970.59,196.71 L971.59,196.06 L972.59,195.63 L973.59,195.42 L974.59,195.42 L975.59,195.64 L976.59,196.08 L977.59,196.75 L978.59,197.63 L979.59,198.72 L980.59,200.03 L981.60,201.55 L982.60,203.27 L983.60,205.20 L984.60,207.31 L985.60,209.62 L986.60,212.11 L987.60,214.78 L988.60,217.62 L989.60,220.62 L990.60,223.77 L991.60,227.06 L992.60,230.49 L993.60,234.05 L994.60,237.73 L995.60,241.51 L996.60,245.39 L997.60,249.36 L998.61,253.40 L999.61,257.50 L1000.61,261.66 L1001.61,265.86 L1002.61,270.09 L1003.61,274.34 L1004.61,278.60 L1005.61,282.85 L1006.61,287.09 L1007.61,291.30 L1008.61,295.48 L1009.61,299.60 L1010.61,303.66 L1011.61,307.66 L1012.61,311.56 L1013.61,315.38 L1014.61,319.09 L1015.62,322.69 L1016.62,326.16 L1017.62,329.51 L1018.62,332.71 L1019.62,335.76 L1020.62,338.65 L1021.62,341.37 L1022.62,343.92 L1023.62,346.29 L1024.62,348.47 L1025.62,350.46 L1026.62,352.25 L1027.62,353.84 L1028.62,355.21 L1029.62,356.38 L1030.62,357.33 L1031.63,358.07 L1032.63,358.58 L1033.63,358.88 L1034.63,358.95 L1035.63,358.79 L1036.63,358.41 L1037.63,357.79 L1038.63,356.94 L1039.63,355.86 L1040.63,354.56 L1041.63,353.04 L1042.63,351.30 L1043.63,349.35 L1044.63,347.18 L1045.63,344.82 L1046.63,342.25 L1047.63,339.50 L1048.64,336.55 L1049.64,333.44 L1050.64,330.15 L1051.64,326.69 L1052.64,323.09 L1053.64,319.34 L1054.64,315.45 L1055.64,311.44 L1056.64,307.31 L1057.64,303.07 L1058.64,298.74 L1059.64,294.32 L1060.64,289.83 L1061.64,285.27 L1062.64,280.66 L1063.64,276.00 L1064.64,271.32 L1065.65,266.62 L1066.65,261.91 L1067.65,257.20 L1068.65,252.51 L1069.65,247.85 L1070.65,243.22 L1071.65,238.65 L1072.65,234.13 L1073.65,229.68 L1074.65,225.32 L1075.65,221.05 L1076.65,216.89 L1077.65,212.83 L1078.65,208.90 L1079.65,205.11 L1080.65,201.45 L1081.66,197.95 L1082.66,194.61 L1083.66,191.43 L1084.66,188.43 L1085.66,185.61 L1086.66,182.98 L1087.66,180.55 L1088.66,178.32 L1089.66,176.29 L1090.66,174.48 L1091.66,172.89 L1092.66,171.51 L1093.66,170.36 L1094.66,169.44 L1095.66,168.75 L1096.66,168.28 L1097.66,168.05 L1098.67,168.05 L1099.67,168.29 L1100.67,168.76 L1101.67,169.47 L1102.67,170.42 L1103.67,171.59 L1104.67,173.00 L1105.67,174.63 L1106.67,176.48 L1107.67,178.55 L1108.67,180.83 L1109.67,183.32 L1110.67,186.01 L1111.67,188.90 L1112.67,191.98 L1113.67,195.23 L1114.67,198.66 L1115.68,202.26 L1116.68,206.01 L1117.68,209.91 L1118.68,213.95 L1119.68,218.12 L1120.68,222.41 L1121.68,226.81 L1122.68,231.31 L1123.68,235.90 L1124.68,240.57 L1125.68,245.30 L1126.68,250.09 L1127.68,254.92 L1128.68,259.79 L1129.68,264.68 L1130.68,269.58 L1131.69,274.48 L1132.69,279.36 L1133.69,284.23 L1134.69,289.05 L1135.69,293.83 L1136.69,298.55 L1137.69,303.21 L1138.69,307.78 L1139.69,312.26 L1140.69,316.65 L1141.69,320.92 L1142.69,325.06 L1143.69,329.08 L1144.69,332.96 L1145.69,336.69 L1146.69,340.25 L1147.69,343.65 L1148.70,346.88 L1149.70,349.93 L1150.70,352.78 L1151.70,355.44 L1152.70,357.89 L1153.70,360.14 L1154.70,362.17 L1155.70,363.99 L1156.70,365.58 L1157.70,366.95 L1158.70,368.08 L1159.70,368.99 L1160.70,369.66 L1161.70,370.09 L1162.70,370.29 L1163.70,370.25 L1164.70,369.99 L1165.71,369.50 L1166.71,368.79 L1167.71,367.85 L1168.71,366.70 L1169.71,365.33 L1170.71,363.74 L1171.71,361.95 L1172.71,359.95 L1173.71,357.75 L1174.71,355.36 L1175.71,352.78 L1176.71,350.02 L1177.71,347.09 L1178.71,343.99 L1179.71,340.73 L1180.71,337.32 L1181.72,333.77 L1182.72,330.09 L1183.72,326.28 L1184.72,322.36 L1185.72,318.34 L1186.72,314.22 L1187.72,310.02 L1188.72,305.75 L1189.72,301.42 L1190.72,297.03 L1191.72,292.61 L1192.72,288.17 L1193.72,283.70 L1194.72,279.23 L1195.72,274.77 L1196.72,270.32 L1197.72,265.91 L1198.73,261.53 L1199.73,257.21 L1200.73,252.95 L1201.73,248.77 L1202.73,244.66 L1203.73,240.66 L1204.73,236.76 L1205.73,232.97 L1206.73,229.31 L1207.73,225.78 L1208.73,222.40 L1209.73,219.16 L1210.73,216.09 L1211.73,213.19 L1212.73,210.46 L1213.73,207.91 L1214.73,205.55 L1215.74,203.39 L1216.74,201.42 L1217.74,199.67 L1218.74,198.12 L1219.74,196.78 L1220.74,195.67 L1221.74,194.77 L1222.74,194.09 L1223.74,193.64 L1224.74,193.42 L1225.74,193.42 L1226.74,193.65 L1227.74,194.11 L1228.74,194.81 L1229.74,195.73 L1230.74,196.88 L1231.75,198.26 L1232.75,199.85 L1233.75,201.65 L1234.75,203.67 L1235.75,205.89 L1236.75,208.31 L1237.75,210.91 L1238.75,213.71 L1239.75,216.67 L1240.75,219.81 L1241.75,223.10 L1242.75,226.55 L1243.75,230.13 L1244.75,233.85 L1245.75,237.68 L1246.75,241.63 L1247.75,245.67 L1248.76,249.80 L1249.76,254.00 L1250.76,258.27 L1251.76,262.59 L1252.76,266.95 L1253.76,271.34 L1254.76,275.74 L1255.76,280.14 L1256.76,284.54 L1257.76,288.91 L1258.76,293.25 L1259.76,297.55 L1260.76,301.79 L1261.76,305.95 L1262.76,310.04 L1263.76,314.04 L1264.76,317.93 L1265.77,321.70 L1266.77,325.35 L1267.77,328.87 L1268.77,332.24 L1269.77,335.46 L1270.77,338.51 L1271.77,341.39 L1272.77,344.09 L1273.77,346.61 L1274.77,348.92 L1275.77,351.04 L1276.77,352.95 L1277.77,354.65 L1278.77,356.14 L1279.77,357.40 L1280.77,358.43 L1281.78,359.24 L1282.78,359.82 L1283.78,360.17 L1284.78,360.29 L1285.78,360.17 L1286.78,359.80 L1287.78,359.19 L1288.78,358.33 L1289.78,357.24 L1290.78,355.91 L1291.78,354.34 L1292.78,352.55 L1293.78,350.52 L1294.78,348.28 L1295.78,345.82 L1296.78,343.15 L1297.78,340.28 L1298.79,337.21 L1299.79,333.96 L1300.79,330.52 L1301.79,326.91 L1302.79,323.14 L1303.79,319.21 L1304.79,315.14 L1305.79,310.93 L1306.79,306.60 L1307.79,302.16 L1308.79,297.61 L1309.79,292.97 L1310.79,288.25 L1311.79,283.47 L1312.79,278.62 L1313.79,273.73 L1314.79,268.81 L1315.80,263.86 L1316.80,258.91 L1317.80,253.96 L1318.80,249.02 L1319.80,244.12 L1320.80,239.25 L1321.80,234.43 L1322.80,229.68 L1323.80,225.00 L1324.80,220.40 L1325.80,215.90 L1326.80,211.52 L1327.80,207.25 L1328.80,203.11 L1329.80,199.11 L1330.80,195.25 L1331.81,191.56 L1332.81,188.04 L1333.81,184.69 L1334.81,181.53 L1335.81,178.56 L1336.81,175.78 L1337.81,173.22 L1338.81,170.87 L1339.81,168.73 L1340.81,166.82 L1341.81,165.14 L1342.81,163.69 L1343.81,162.48 L1344.81,161.51 L1345.81,160.77 L1346.81,160.28 L1347.81,160.04 L1348.82,160.04 L1349.82,160.30 L1350.82,160.81 L1351.82,161.57 L1352.82,162.59 L1353.82,163.86 L1354.82,165.37 L1355.82,167.13 L1356.82,169.13 L1357.82,171.36 L1358.82,173.82 L1359.82,176.51 L1360.82,179.41 L1361.82,182.52 L1362.82,185.84 L1363.82,189.35 L1364.82,193.06 L1365.83,196.94 L1366.83,200.99 L1367.83,205.20 L1368.83,209.56 L1369.83,214.06 L1370.83,218.70 L1371.83,223.45 L1372.83,228.31 L1373.83,233.27 L1374.83,238.31 L1375.83,243.43 L1376.83,248.61 L1377.83,253.84 L1378.83,259.11 L1379.83,264.40 L1380.83,269.71 L1381.84,275.02 L1382.84,280.32 L1383.84,285.59 L1384.84,290.83 L1385.84,296.02 L1386.84,301.15 L1387.84,306.21 L1388.84,311.18 L1389.84,316.06 L1390.84,320.83 L1391.84,325.48 L1392.84,330.01 L1393.84,334.40 L1394.84,338.63 L1395.84,342.71 L1396.84,346.62 L1397.84,350.36 L1398.85,353.90 L1399.85,357.25 L1400.85,360.40 L1401.85,363.34 L1402.85,366.06 L1403.85,368.56 L1404.85,370.84 L1405.85,372.87 L1406.85,374.67 L1407.85,376.23 L1408.85,377.54 L1409.85,378.60 L1410.85,379.41 L1411.85,379.96 L1412.85,380.26 L1413.85,380.30 L1414.85,380.10 L1415.86,379.66 L1416.86,378.99 L1417.86,378.07 L1418.86,376.92 L1419.86,375.54 L1420.86,373.93 L1421.86,372.10 L1422.86,370.04 L1423.86,367.78 L1424.86,365.30 L1425.86,362.62 L1426.86,359.75 L1427.86,356.69 L1428.86,353.45 L1429.86,350.04 L1430.86,346.46 L1431.87,342.73 L1432.87,338.86 L1433.87,334.85 L1434.87,330.72 L1435.87,326.47 L1436.87,322.12 L1437.87,317.68 L1438.87,313.16 L1439.87,308.57 L1440.87,303.92 L1441.87,299.23 L1442.87,294.50 L1443.87,289.75 L1444.87,285.00 L1445.87,280.24 L1446.87,275.50 L1447.87,270.79 L1448.88,266.12 L1449.88,261.50 L1450.88,256.94 L1451.88,252.46 L1452.88,248.06 L1453.88,243.76 L1454.88,239.57 L1455.88,235.50 L1456.88,231.56 L1457.88,227.76 L1458.88,224.10 L1459.88,220.61 L1460.88,217.28 L1461.88,214.13 L1462.88,211.16 L1463.88,208.38 L1464.88,205.81 L1465.89,203.43 L1466.89,201.27 L1467.89,199.33 L1468.89,197.61 L1469.89,196.11 L1470.89,194.84 L1471.89,193.81 L1472.89,193.01 L1473.89,192.46 L1474.89,192.14 L1475.89,192.06 L1476.89,192.22 L1477.89,192.62 L1478.89,193.27 L1479.89,194.15 L1480.89,195.26 L1481.90,196.61 L1482.90,198.19 L1483.90,199.99 L1484.90,202.01 L1485.90,204.25 L1486.90,206.69 L1487.90,209.33 L1488.90,212.17 L1489.90,215.18 L1490.90,218.38 L1491.90,221.74 L1492.90,225.25 L1493.90,228.92 L1494.90,232.72 L1495.90,236.65 L1496.90,240.69 L1497.90,244.83 L1498.91,249.07 L1499.91,253.38 L1500.91,257.76 L1501.91,262.20 L1502.91,266.68 L1503.91,271.18 L1504.91,275.71 L1505.91,280.23 L1506.91,284.75 L1507.91,289.24 L1508.91,293.70 L1509.91,298.11 L1510.91,302.46 L1511.91,306.74 L1512.91,310.93 L1513.91,315.02 L1514.91,319.01 L1515.92,322.87 L1516.92,326.61 L1517.92,330.20 L1518.92,333.64 L1519.92,336.92 L1520.92,340.03 L1521.92,342.95 L1522.92,345.69 L1523.92,348.23 L1524.92,350.57 L1525.92,352.70 L1526.92,354.61 L1527.92,356.30 L1528.92,357.77 L1529.92,359.00 L1530.92,360.00 L1531.93,360.76 L1532.93,361.29 L1533.93,361.57 L1534.93,361.61 L1535.93,361.40 L1536.93,360.93 L1537.93,360.21 L1538.93,359.24 L1539.93,358.02 L1540.93,356.55 L1541.93,354.84 L1542.93,352.89 L1543.93,350.70 L1544.93,348.29 L1545.93,345.65 L1546.93,342.80 L1547.93,339.74 L1548.94,336.48 L1549.94,333.03 L1550.94,329.38 L1551.94,325.57 L1552.94,321.58 L1553.94,317.44 L1554.94,313.16 L1555.94,308.73 L1556.94,304.19 L1557.94,299.52 L1558.94,294.76 L1559.94,289.90 L1560.94,284.97 L1561.94,279.96 L1562.94,274.91 L1563.94,269.81 L1564.94,264.68 L1565.95,259.54 L1566.95,254.39 L1567.95,249.25 L1568.95,244.13 L1569.95,239.04 L1570.95,234.00 L1571.95,229.02 L1572.95,224.11 L1573.95,219.28 L1574.95,214.55 L1575.95,209.92 L1576.95,205.42 L1577.95,201.04 L1578.95,196.80 L1579.95,192.71 L1580.95,188.78 L1581.96,185.02 L1582.96,181.44 L1583.96,178.05 L1584.96,174.85 L1585.96,171.86 L1586.96,169.08 L1587.96,166.51 L1588.96,164.18 L1589.96,162.07 L1590.96,160.20 L1591.96,158.56 L1592.96,157.18 L1593.96,156.04 L1594.96,155.15 L1595.96,154.51 L1596.96,154.13 L1597.96,154.00 L1598.97,154.14 L1599.97,154.54 L1600.97,155.21 L1601.97,156.15 L1602.97,157.35 L1603.97,158.82 L1604.97,160.54 L1605.97,162.52 L1606.97,164.74 L1607.97,167.21 L1608.97,169.92 L1609.97,172.86 L1610.97,176.03 L1611.97,179.42 L1612.97,183.02 L1613.97,186.81 L1614.97,190.81 L1615.98,194.98 L1616.98,199.34 L1617.98,203.85 L1618.98,208.52 L1619.98,213.34 L1620.98,218.28 L1621.98,223.35 L1622.98,228.52 L1623.98,233.79 L1624.98,239.15 L1625.98,244.58 L1626.98,250.07 L1627.98,255.61 L1628.98,261.18 L1629.98,266.77 L1630.98,272.37 L1631.99,277.97 L1632.99,283.55 L1633.99,289.10 L1634.99,294.61 L1635.99,300.06 L1636.99,305.44 L1637.99,310.74 L1638.99,315.95 L1639.99,321.05 L1640.99,326.04 L1641.99,330.90 L1642.99,335.62 L1643.99,340.18 L1644.99,344.59 L1645.99,348.83 L1646.99,352.88 L1647.99,356.75 L1649.00,360.41 L1650.00,363.87 L1651.00,367.11 L1652.00,370.13 L1653.00,372.91 L1654.00,375.46 L1655.00,377.77 L1656.00,379.83 L1657.00,381.64 L1658.00,383.19 L1659.00,384.48 L1660.00,385.50 L1661.00,386.26 L1662.00,386.75 L1663.00,386.98 L1664.00,386.94 L1665.00,386.64 L1666.01,386.09 L1667.01,385.29 L1668.01,384.25 L1669.01,382.95 L1670.01,381.42 L1671.01,379.64 L1672.01,377.63 L1673.01,375.39 L1674.01,372.93 L1675.01,370.25 L1676.01,367.36 L1677.01,364.27 L1678.01,360.98 L1679.01,357.50 L1680.01,353.85 L1681.01,350.02 L1682.02,346.04 L1683.02,341.91 L1684.02,337.63 L1685.02,333.23 L1686.02,328.71 L1687.02,324.09 L1688.02,319.37 L1689.02,314.57 L1690.02,309.70 L1691.02,304.78 L1692.02,299.80 L1693.02,294.80 L1694.02,289.77 L1695.02,284.74 L1696.02,279.71 L1697.02,274.70 L1698.02,269.72 L1699.03,264.79 L1700.03,259.91 L1701.03,255.10 L1702.03,250.36 L1703.03,245.72 L1704.03,241.19 L1705.03,236.77 L1706.03,232.47 L1707.03,228.32 L1708.03,224.31 L1709.03,220.46 L1710.03,216.78 L1711.03,213.27 L1712.03,209.95 L1713.03,206.83 L1714.03,203.90 L1715.03,201.19 L1716.04,198.69 L1717.04,196.42 L1718.04,194.37 L1719.04,192.56 L1720.04,190.98 L1721.04,189.65 L1722.04,188.56 L1723.04,187.72 L1724.04,187.14 L1725.04,186.80 L1726.04,186.72 L1727.04,186.88 L1728.04,187.29 L1729.04,187.93 L1730.04,188.82 L1731.04,189.95 L1732.05,191.31 L1733.05,192.90 L1734.05,194.72 L1735.05,196.76 L1736.05,199.01 L1737.05,201.48 L1738.05,204.15 L1739.05,207.02 L1740.05,210.08 L1741.05,213.31 L1742.05,216.72 L1743.05,220.30 L1744.05,224.02 L1745.05,227.89 L1746.05,231.89 L1747.05,236.02 L1748.05,240.25 L1749.06,244.59 L1750.06,249.01 L1751.06,253.51 L1752.06,258.08 L1753.06,262.69 L1754.06,267.35 L1755.06,272.03 L1756.06,276.73 L1757.06,281.43 L1758.06,286.12 L1759.06,290.79 L1760,406 Z"/><clipPath id="nightClip"><rect x="71.95" y="100" width="72.68" height="320"/><rect x="233.65" y="100" width="151.29" height="320"/><rect x="473.96" y="100" width="151.12" height="320"/><rect x="714.27" y="100" width="150.96" height="320"/><rect x="954.58" y="100" width="150.79" height="320"/><rect x="1194.72" y="100" width="150.79" height="320"/><rect x="1435.20" y="100" width="150.46" height="320"/><rect x="1675.34" y="100" width="76.66" height="320"/></clipPath><clipPath id="dayClip"><rect x="60.00" y="100" width="11.95" height="320"/><rect x="144.63" y="100" width="89.02" height="320"/><rect x="384.94" y="100" width="89.02" height="320"/><rect x="625.08" y="100" width="89.19" height="320"/><rect x="865.23" y="100" width="89.35" height="320"/><rect x="1105.37" y="100" width="89.35" height="320"/><rect x="1345.51" y="100" width="89.69" height="320"/><rect x="1585.66" y="100" width="89.69" height="320"/></clipPath><linearGradient id="tideFillN" gradientUnits="userSpaceOnUse" x1="0" y1="122" x2="0" y2="406"><stop offset="0" stop-color="#5ca2cd"/><stop offset="0.40" stop-color="#5ca2cd"/><stop offset="1" stop-color="#eaebec" stop-opacity="0.96"/></linearGradient></defs>
<g clip-path="url(#dayClip)"><use href="#tideP" fill="url(#tideFill)" stroke="#1b80c8" stroke-width="2.9" stroke-linejoin="round"/></g>
<g clip-path="url(#nightClip)"><use href="#tideP" fill="url(#tideFillN)" stroke="#3a8ec9" stroke-width="2.9" stroke-linejoin="round"/></g>
<rect x="70" y="404.7" width="1682" height="2.4" fill="#1b80c8"/>
<circle cx="102.57" cy="194.72" r="4.1" fill="#2f9bd9" stroke="#ffffff" stroke-width="1"/>
<circle cx="162.77" cy="346.94" r="4.2" fill="#0b878c" stroke="#ffffff" stroke-width="1"/>
<circle cx="224.31" cy="186.05" r="4.1" fill="#2f9bd9" stroke="#ffffff" stroke-width="1"/>
<circle cx="287.51" cy="362.29" r="4.2" fill="#0b878c" stroke="#ffffff" stroke-width="1"/>
<circle cx="350.55" cy="189.38" r="4.1" fill="#2f9bd9" stroke="#ffffff" stroke-width="1"/>
<circle cx="412.08" cy="350.27" r="4.2" fill="#0b878c" stroke="#ffffff" stroke-width="1"/>
<circle cx="473.62" cy="190.05" r="4.1" fill="#2f9bd9" stroke="#ffffff" stroke-width="1"/>
<circle cx="536.00" cy="360.96" r="4.2" fill="#0b878c" stroke="#ffffff" stroke-width="1"/>
<circle cx="599.20" cy="182.71" r="4.1" fill="#2f9bd9" stroke="#ffffff" stroke-width="1"/>
<circle cx="661.90" cy="355.62" r="4.2" fill="#0b878c" stroke="#ffffff" stroke-width="1"/>
<circle cx="723.44" cy="193.39" r="4.1" fill="#2f9bd9" stroke="#ffffff" stroke-width="1"/>
<circle cx="784.81" cy="359.62" r="4.2" fill="#0b878c" stroke="#ffffff" stroke-width="1"/>
<circle cx="848.35" cy="176.03" r="4.1" fill="#2f9bd9" stroke="#ffffff" stroke-width="1"/>
<circle cx="912.22" cy="362.29" r="4.2" fill="#0b878c" stroke="#ffffff" stroke-width="1"/>
<circle cx="974.09" cy="195.39" r="4.1" fill="#2f9bd9" stroke="#ffffff" stroke-width="1"/>
<circle cx="1034.46" cy="358.95" r="4.2" fill="#0b878c" stroke="#ffffff" stroke-width="1"/>
<circle cx="1098.16" cy="168.02" r="4.1" fill="#2f9bd9" stroke="#ffffff" stroke-width="1"/>
<circle cx="1163.03" cy="370.30" r="4.2" fill="#0b878c" stroke="#ffffff" stroke-width="1"/>
<circle cx="1225.24" cy="193.39" r="4.1" fill="#2f9bd9" stroke="#ffffff" stroke-width="1"/>
<circle cx="1284.78" cy="360.29" r="4.2" fill="#0b878c" stroke="#ffffff" stroke-width="1"/>
<circle cx="1348.32" cy="160.01" r="4.1" fill="#2f9bd9" stroke="#ffffff" stroke-width="1"/>
<circle cx="1413.52" cy="380.32" r="4.2" fill="#0b878c" stroke="#ffffff" stroke-width="1"/>
<circle cx="1475.72" cy="192.05" r="4.1" fill="#2f9bd9" stroke="#ffffff" stroke-width="1"/>
<circle cx="1534.60" cy="361.62" r="4.2" fill="#0b878c" stroke="#ffffff" stroke-width="1"/>
<circle cx="1597.96" cy="154.00" r="4.1" fill="#2f9bd9" stroke="#ffffff" stroke-width="1"/>
<circle cx="1663.33" cy="386.99" r="4.2" fill="#0b878c" stroke="#ffffff" stroke-width="1"/>
<circle cx="1725.87" cy="186.71" r="4.1" fill="#2f9bd9" stroke="#ffffff" stroke-width="1"/>
</g>
<g clip-path="url(#axisClip)" font-size="11.6" fill="#1a1a1a" text-anchor="end">
<text x="67" y="122.3">12.1ft (3.7m)</text>
<text x="67" y="153.6">10.5ft (3.2m)</text>
<text x="67" y="184.9">9ft (2.7m)</text>
<text x="67" y="216.2">7.4ft (2.3m)</text>
<text x="67" y="247.5">5.9ft (1.8m)</text>
<text x="67" y="278.8">4.3ft (1.3m)</text>
<text x="67" y="310.0">2.8ft (0.8m)</text>
<text x="67" y="341.3">1.2ft (0.4m)</text>
<text x="67" y="372.6">-0.3ft (-0.1m)</text>
<text x="67" y="403.9">-1.9ft (-0.6m)</text>
</g>
<rect x="69.2" y="121.5" width="1" height="285" fill="#b4b4b4"/>
<rect x="0" y="406.8" width="1752" height="1.8" fill="#2e4f70"/>
<rect x="70" y="408.5" width="1682" height="58.5" fill="#f5fafe"/>
<rect x="70" y="467" width="1682" height="59" fill="#ffffff"/>
<rect x="0" y="528" width="1752" height="45" fill="#fffff0"/>
<rect x="70" y="573" width="1682" height="186" fill="#ffffff"/>
<rect x="0" y="760" width="1752" height="27" fill="#fafafa"/>
<rect x="190.66" y="528" width="60.08000000000001" height="45" fill="#eeeeee"/>
<rect x="430.98" y="528" width="60.079999999999984" height="45" fill="#eeeeee"/>
<rect x="671.3" y="528" width="60.08000000000004" height="45" fill="#eeeeee"/>
<rect x="911.62" y="528" width="60.08000000000004" height="45" fill="#eeeeee"/>
<rect x="1156.5" y="528" width="60.049999999999955" height="45" fill="#eeeeee"/>
<rect x="1396.6" y="528" width="60.0" height="45" fill="#eeeeee"/>
<rect x="1636.6" y="528" width="60.0" height="45" fill="#eeeeee"/>
<rect x="70" y="466.5" width="1682" height="1" fill="#e9eef2"/>
<rect x="70" y="572.5" width="1682" height="1" fill="#ececec"/>
<rect x="130.08" y="408.5" width="1" height="351" fill="#e6ebef"/>
<rect x="190.16" y="408.5" width="1" height="351" fill="#e6ebef"/>
<rect x="250.24" y="408.5" width="1" height="351" fill="#e6ebef"/>
<rect x="370.4" y="408.5" width="1" height="351" fill="#e6ebef"/>
<rect x="430.48" y="408.5" width="1" height="351" fill="#e6ebef"/>
<rect x="490.56" y="408.5" width="1" height="351" fill="#e6ebef"/>
<rect x="610.72" y="408.5" width="1" height="351" fill="#e6ebef"/>
<rect x="670.8" y="408.5" width="1" height="351" fill="#e6ebef"/>
<rect x="730.88" y="408.5" width="1" height="351" fill="#e6ebef"/>
<rect x="851.04" y="408.5" width="1" height="351" fill="#e6ebef"/>
<rect x="911.12" y="408.5" width="1" height="351" fill="#e6ebef"/>
<rect x="971.2" y="408.5" width="1" height="351" fill="#e6ebef"/>
<rect x="1096" y="408.5" width="1" height="351" fill="#e6ebef"/>
<rect x="1156" y="408.5" width="1" height="351" fill="#e6ebef"/>
<rect x="1216.05" y="408.5" width="1" height="351" fill="#e6ebef"/>
<rect x="1336.1" y="408.5" width="1" height="351" fill="#e6ebef"/>
<rect x="1396.1" y="408.5" width="1" height="351" fill="#e6ebef"/>
<rect x="1456.1" y="408.5" width="1" height="351" fill="#e6ebef"/>
<rect x="1576.1" y="408.5" width="1" height="351" fill="#e6ebef"/>
<rect x="1636.1" y="408.5" width="1" height="351" fill="#e6ebef"/>
<rect x="1696.1" y="408.5" width="1" height="351" fill="#e6ebef"/>
<rect x="310.32" y="408.5" width="1" height="351" fill="#6e6e6e"/>
<rect x="550.64" y="408.5" width="1" height="351" fill="#6e6e6e"/>
<rect x="790.96" y="408.5" width="1" height="351" fill="#6e6e6e"/>
<rect x="1031.3" y="408.5" width="1" height="351" fill="#6e6e6e"/>
<rect x="1276.1" y="408.5" width="1" height="351" fill="#6e6e6e"/>
<rect x="1516.1" y="408.5" width="1" height="351" fill="#6e6e6e"/>
<rect x="0" y="526" width="1752" height="1.8" fill="#2e4f70"/>
<rect x="0" y="651.7" width="1752" height="1.2" fill="#3f6690"/>
<rect x="0" y="759" width="1752" height="1.2" fill="#3f6690"/>
<rect x="69.4" y="408.5" width="1" height="379" fill="#8c8c8c"/>
<text x="35" y="434" font-size="14" font-weight="bold" fill="#4a80b8" text-anchor="middle">HIGH</text>
<text x="35" y="450" font-size="13.5" fill="#333" text-anchor="middle">(EST)</text>
<text x="35" y="492.5" font-size="14" font-weight="bold" fill="#0e8794" text-anchor="middle">LOW</text>
<text x="35" y="508.8" font-size="13.5" fill="#333" text-anchor="middle">(EST)</text>
<text x="35" y="554.7" font-size="14" fill="#333" text-anchor="middle">Sun</text>
<path d="M31,541 L35,535.5 L39,541 Z M31,558 L35,563.5 L39,558 Z" fill="#111"/>
<text x="35" y="596.5" font-size="14" fill="#333" text-anchor="middle">Moon</text>
<text x="35" y="624.6" font-size="14" fill="#333" text-anchor="middle">Set</text>
<text x="35" y="644.5" font-size="14" fill="#333" text-anchor="middle">Rise</text>
<text x="35" y="672" font-size="14" fill="#333" text-anchor="middle">Wind</text>
<text x="35" y="688.3" font-size="14" fill="#333" text-anchor="middle">(<tspan fill="#4a80b8" text-decoration="underline">mph</tspan>)</text>
<text x="100.24000000000001" y="428" font-size="13" font-weight="bold" fill="#4a80b8" text-anchor="middle">3:00AM</text>
<text x="100.24000000000001" y="441.6" font-size="12.5" fill="#333" text-anchor="middle">2.60m</text>
<text x="100.24000000000001" y="455.1" font-size="12.5" fill="#333" text-anchor="middle">(2.6m)</text>
<text x="220.39999999999998" y="428" font-size="13" font-weight="bold" fill="#4a80b8" text-anchor="middle">3:10PM</text>
<text x="220.39999999999998" y="441.6" font-size="12.5" fill="#333" text-anchor="middle">2.73m</text>
<text x="220.39999999999998" y="455.1" font-size="12.5" fill="#333" text-anchor="middle">(2.73m)</text>
<text x="340.56" y="428" font-size="13" font-weight="bold" fill="#4a80b8" text-anchor="middle">3:47AM</text>
<text x="340.56" y="441.6" font-size="12.5" fill="#333" text-anchor="middle">2.68m</text>
<text x="340.56" y="455.1" font-size="12.5" fill="#333" text-anchor="middle">(2.68m)</text>
<text x="460.71999999999997" y="428" font-size="13" font-weight="bold" fill="#4a80b8" text-anchor="middle">4:05PM</text>
<text x="460.71999999999997" y="441.6" font-size="12.5" fill="#333" text-anchor="middle">2.67m</text>
<text x="460.71999999999997" y="455.1" font-size="12.5" fill="#333" text-anchor="middle">(2.67m)</text>
<text x="580.8800000000001" y="428" font-size="13" font-weight="bold" fill="#4a80b8" text-anchor="middle">4:38AM</text>
<text x="580.8800000000001" y="441.6" font-size="12.5" fill="#333" text-anchor="middle">2.78m</text>
<text x="580.8800000000001" y="455.1" font-size="12.5" fill="#333" text-anchor="middle">(2.78m)</text>
<text x="701.04" y="428" font-size="13" font-weight="bold" fill="#4a80b8" text-anchor="middle">5:03PM</text>
<text x="701.04" y="441.6" font-size="12.5" fill="#333" text-anchor="middle">2.62m</text>
<text x="701.04" y="455.1" font-size="12.5" fill="#333" text-anchor="middle">(2.62m)</text>
<text x="821.2" y="428" font-size="13" font-weight="bold" fill="#4a80b8" text-anchor="middle">5:32AM</text>
<text x="821.2" y="441.6" font-size="12.5" fill="#333" text-anchor="middle">2.88m</text>
<text x="821.2" y="455.1" font-size="12.5" fill="#333" text-anchor="middle">(2.88m)</text>
<text x="1001.45" y="428" font-size="13" font-weight="bold" fill="#4a80b8" text-anchor="middle">6:06PM</text>
<text x="1001.45" y="441.6" font-size="12.5" fill="#333" text-anchor="middle">2.59m</text>
<text x="1001.45" y="455.1" font-size="12.5" fill="#333" text-anchor="middle">(2.59m)</text>
<text x="1126.2" y="428" font-size="13" font-weight="bold" fill="#4a80b8" text-anchor="middle">6:30AM</text>
<text x="1126.2" y="441.6" font-size="12.5" fill="#333" text-anchor="middle">3.00m</text>
<text x="1126.2" y="455.1" font-size="12.5" fill="#333" text-anchor="middle">(3m)</text>
<text x="1246.2749999999999" y="428" font-size="13" font-weight="bold" fill="#4a80b8" text-anchor="middle">7:12PM</text>
<text x="1246.2749999999999" y="441.6" font-size="12.5" fill="#333" text-anchor="middle">2.62m</text>
<text x="1246.2749999999999" y="455.1" font-size="12.5" fill="#333" text-anchor="middle">(2.62m)</text>
<text x="1366.3" y="428" font-size="13" font-weight="bold" fill="#4a80b8" text-anchor="middle">7:30AM</text>
<text x="1366.3" y="441.6" font-size="12.5" fill="#333" text-anchor="middle">3.12m</text>
<text x="1366.3" y="455.1" font-size="12.5" fill="#333" text-anchor="middle">(3.12m)</text>
<text x="1486.3" y="428" font-size="13" font-weight="bold" fill="#4a80b8" text-anchor="middle">8:14PM</text>
<text x="1486.3" y="441.6" font-size="12.5" fill="#333" text-anchor="middle">2.64m</text>
<text x="1486.3" y="455.1" font-size="12.5" fill="#333" text-anchor="middle">(2.64m)</text>
<text x="1606.3" y="428" font-size="13" font-weight="bold" fill="#4a80b8" text-anchor="middle">8:27AM</text>
<text x="1606.3" y="441.6" font-size="12.5" fill="#333" text-anchor="middle">3.21m</text>
<text x="1606.3" y="455.1" font-size="12.5" fill="#333" text-anchor="middle">(3.21m)</text>
<text x="1726.3" y="428" font-size="13" font-weight="bold" fill="#4a80b8" text-anchor="middle">9:14PM</text>
<text x="1726.3" y="441.6" font-size="12.5" fill="#333" text-anchor="middle">2.72m</text>
<text x="1726.3" y="455.1" font-size="12.5" fill="#333" text-anchor="middle">(2.72m)</text>
<text x="160.32" y="486.7" font-size="13" font-weight="bold" fill="#0e8794" text-anchor="middle">9:01AM</text>
<text x="160.32" y="500.8" font-size="12.5" fill="#333" text-anchor="middle">0.32m</text>
<text x="160.32" y="514.5" font-size="12.5" fill="#333" text-anchor="middle">(0.32m)</text>
<text x="280.47999999999996" y="486.7" font-size="13" font-weight="bold" fill="#0e8794" text-anchor="middle">9:29PM</text>
<text x="280.47999999999996" y="500.8" font-size="12.5" fill="#333" text-anchor="middle">0.09m</text>
<text x="280.47999999999996" y="514.5" font-size="12.5" fill="#333" text-anchor="middle">(0.09m)</text>
<text x="400.64" y="486.7" font-size="13" font-weight="bold" fill="#0e8794" text-anchor="middle">9:56AM</text>
<text x="400.64" y="500.8" font-size="12.5" fill="#333" text-anchor="middle">0.27m</text>
<text x="400.64" y="514.5" font-size="12.5" fill="#333" text-anchor="middle">(0.27m)</text>
<text x="520.8000000000001" y="486.7" font-size="13" font-weight="bold" fill="#0e8794" text-anchor="middle">10:19PM</text>
<text x="520.8000000000001" y="500.8" font-size="12.5" fill="#333" text-anchor="middle">0.11m</text>
<text x="520.8000000000001" y="514.5" font-size="12.5" fill="#333" text-anchor="middle">(0.11m)</text>
<text x="640.96" y="486.7" font-size="13" font-weight="bold" fill="#0e8794" text-anchor="middle">10:54AM</text>
<text x="640.96" y="500.8" font-size="12.5" fill="#333" text-anchor="middle">0.19m</text>
<text x="640.96" y="514.5" font-size="12.5" fill="#333" text-anchor="middle">(0.19m)</text>
<text x="761.1200000000001" y="486.7" font-size="13" font-weight="bold" fill="#0e8794" text-anchor="middle">11:11PM</text>
<text x="761.1200000000001" y="500.8" font-size="12.5" fill="#333" text-anchor="middle">0.13m</text>
<text x="761.1200000000001" y="514.5" font-size="12.5" fill="#333" text-anchor="middle">(0.13m)</text>
<text x="881.28" y="486.7" font-size="13" font-weight="bold" fill="#0e8794" text-anchor="middle">11:55AM</text>
<text x="881.28" y="500.8" font-size="12.5" fill="#333" text-anchor="middle">0.09m</text>
<text x="881.28" y="514.5" font-size="12.5" fill="#333" text-anchor="middle">(0.09m)</text>
<text x="1063.8500000000001" y="486.7" font-size="13" font-weight="bold" fill="#0e8794" text-anchor="middle">00:08AM</text>
<text x="1063.8500000000001" y="500.8" font-size="12.5" fill="#333" text-anchor="middle">0.14m</text>
<text x="1063.8500000000001" y="514.5" font-size="12.5" fill="#333" text-anchor="middle">(0.14m)</text>
<text x="1186.2250000000001" y="486.7" font-size="13" font-weight="bold" fill="#0e8794" text-anchor="middle">12:59PM</text>
<text x="1186.2250000000001" y="500.8" font-size="12.5" fill="#333" text-anchor="middle">-0.03m</text>
<text x="1186.2250000000001" y="514.5" font-size="12.5" fill="#333" text-anchor="middle">(-0.03m)</text>
<text x="1306.3" y="486.7" font-size="13" font-weight="bold" fill="#0e8794" text-anchor="middle">1:09AM</text>
<text x="1306.3" y="500.8" font-size="12.5" fill="#333" text-anchor="middle">0.12m</text>
<text x="1306.3" y="514.5" font-size="12.5" fill="#333" text-anchor="middle">(0.12m)</text>
<text x="1426.3" y="486.7" font-size="13" font-weight="bold" fill="#0e8794" text-anchor="middle">2:01PM</text>
<text x="1426.3" y="500.8" font-size="12.5" fill="#333" text-anchor="middle">-0.18m</text>
<text x="1426.3" y="514.5" font-size="12.5" fill="#333" text-anchor="middle">(-0.18m)</text>
<text x="1546.3" y="486.7" font-size="13" font-weight="bold" fill="#0e8794" text-anchor="middle">2:07AM</text>
<text x="1546.3" y="500.8" font-size="12.5" fill="#333" text-anchor="middle">0.10m</text>
<text x="1546.3" y="514.5" font-size="12.5" fill="#333" text-anchor="middle">(0.1m)</text>
<text x="1666.3" y="486.7" font-size="13" font-weight="bold" fill="#0e8794" text-anchor="middle">2:59PM</text>
<text x="1666.3" y="500.8" font-size="12.5" fill="#333" text-anchor="middle">-0.28m</text>
<text x="1666.3" y="514.5" font-size="12.5" fill="#333" text-anchor="middle">(-0.28m)</text>
<path d="M154.62,544.2 A5.7,5.7 0 0 1 166.01999999999998,544.2 M160.32,534.4000000000001 V536.8000000000001 M153.42,537.3000000000001 L155.12,539.0 M167.22,537.3000000000001 L165.51999999999998,539.0 M150.32,544.2 H153.01999999999998 M167.62,544.2 H170.32 M150.32,546.9000000000001 H156.92 L160.32,544.4000000000001 L163.72,546.9000000000001 H170.32" fill="none" stroke="#2a2a2a" stroke-width="1.25"/>
<path d="M214.7,544.2 A5.7,5.7 0 0 1 226.09999999999997,544.2 M220.39999999999998,534.4000000000001 V536.8000000000001 M213.49999999999997,537.3000000000001 L215.2,539.0 M227.29999999999998,537.3000000000001 L225.59999999999997,539.0 M210.39999999999998,544.2 H213.09999999999997 M227.7,544.2 H230.39999999999998 M210.39999999999998,546.9000000000001 H216.99999999999997 L220.39999999999998,549.8000000000001 L223.79999999999998,546.9000000000001 H230.39999999999998" fill="none" stroke="#2a2a2a" stroke-width="1.25"/>
<text x="160.32" y="564.9" font-size="12" fill="#444" text-anchor="middle">7:11AM</text>
<text x="220.39999999999998" y="564.9" font-size="12" fill="#444" text-anchor="middle">4:06PM</text>
<path d="M394.94,544.2 A5.7,5.7 0 0 1 406.34,544.2 M400.64,534.4000000000001 V536.8000000000001 M393.74,537.3000000000001 L395.44,539.0 M407.53999999999996,537.3000000000001 L405.84,539.0 M390.64,544.2 H393.34 M407.94,544.2 H410.64 M390.64,546.9000000000001 H397.24 L400.64,544.4000000000001 L404.03999999999996,546.9000000000001 H410.64" fill="none" stroke="#2a2a2a" stroke-width="1.25"/>
<path d="M455.02,544.2 A5.7,5.7 0 0 1 466.41999999999996,544.2 M460.71999999999997,534.4000000000001 V536.8000000000001 M453.82,537.3000000000001 L455.52,539.0 M467.61999999999995,537.3000000000001 L465.91999999999996,539.0 M450.71999999999997,544.2 H453.41999999999996 M468.02,544.2 H470.71999999999997 M450.71999999999997,546.9000000000001 H457.32 L460.71999999999997,549.8000000000001 L464.11999999999995,546.9000000000001 H470.71999999999997" fill="none" stroke="#2a2a2a" stroke-width="1.25"/>
<text x="400.64" y="564.9" font-size="12" fill="#444" text-anchor="middle">7:12AM</text>
<text x="460.71999999999997" y="564.9" font-size="12" fill="#444" text-anchor="middle">4:07PM</text>
<path d="M635.26,544.2 A5.7,5.7 0 0 1 646.6600000000001,544.2 M640.96,534.4000000000001 V536.8000000000001 M634.0600000000001,537.3000000000001 L635.76,539.0 M647.86,537.3000000000001 L646.1600000000001,539.0 M630.96,544.2 H633.6600000000001 M648.26,544.2 H650.96 M630.96,546.9000000000001 H637.5600000000001 L640.96,544.4000000000001 L644.36,546.9000000000001 H650.96" fill="none" stroke="#2a2a2a" stroke-width="1.25"/>
<path d="M695.3399999999999,544.2 A5.7,5.7 0 0 1 706.74,544.2 M701.04,534.4000000000001 V536.8000000000001 M694.14,537.3000000000001 L695.8399999999999,539.0 M707.9399999999999,537.3000000000001 L706.24,539.0 M691.04,544.2 H693.74 M708.3399999999999,544.2 H711.04 M691.04,546.9000000000001 H697.64 L701.04,549.8000000000001 L704.4399999999999,546.9000000000001 H711.04" fill="none" stroke="#2a2a2a" stroke-width="1.25"/>
<text x="640.96" y="564.9" font-size="12" fill="#444" text-anchor="middle">7:12AM</text>
<text x="701.04" y="564.9" font-size="12" fill="#444" text-anchor="middle">4:08PM</text>
<path d="M875.5799999999999,544.2 A5.7,5.7 0 0 1 886.98,544.2 M881.28,534.4000000000001 V536.8000000000001 M874.38,537.3000000000001 L876.0799999999999,539.0 M888.18,537.3000000000001 L886.48,539.0 M871.28,544.2 H873.98 M888.5799999999999,544.2 H891.28 M871.28,546.9000000000001 H877.88 L881.28,544.4000000000001 L884.68,546.9000000000001 H891.28" fill="none" stroke="#2a2a2a" stroke-width="1.25"/>
<path d="M935.6600000000001,544.2 A5.7,5.7 0 0 1 947.0600000000002,544.2 M941.3600000000001,534.4000000000001 V536.8000000000001 M934.4600000000002,537.3000000000001 L936.1600000000001,539.0 M948.2600000000001,537.3000000000001 L946.5600000000002,539.0 M931.3600000000001,544.2 H934.0600000000002 M948.6600000000001,544.2 H951.3600000000001 M931.3600000000001,546.9000000000001 H937.9600000000002 L941.3600000000001,549.8000000000001 L944.7600000000001,546.9000000000001 H951.3600000000001" fill="none" stroke="#2a2a2a" stroke-width="1.25"/>
<text x="881.28" y="564.9" font-size="12" fill="#444" text-anchor="middle">7:12AM</text>
<text x="941.3600000000001" y="564.9" font-size="12" fill="#444" text-anchor="middle">4:09PM</text>
<path d="M1120.5,544.2 A5.7,5.7 0 0 1 1131.9,544.2 M1126.2,534.4000000000001 V536.8000000000001 M1119.3,537.3000000000001 L1121.0,539.0 M1133.1000000000001,537.3000000000001 L1131.4,539.0 M1116.2,544.2 H1118.9 M1133.5,544.2 H1136.2 M1116.2,546.9000000000001 H1122.8 L1126.2,544.4000000000001 L1129.6000000000001,546.9000000000001 H1136.2" fill="none" stroke="#2a2a2a" stroke-width="1.25"/>
<path d="M1180.525,544.2 A5.7,5.7 0 0 1 1191.9250000000002,544.2 M1186.2250000000001,534.4000000000001 V536.8000000000001 M1179.325,537.3000000000001 L1181.025,539.0 M1193.1250000000002,537.3000000000001 L1191.4250000000002,539.0 M1176.2250000000001,544.2 H1178.9250000000002 M1193.525,544.2 H1196.2250000000001 M1176.2250000000001,546.9000000000001 H1182.825 L1186.2250000000001,549.8000000000001 L1189.6250000000002,546.9000000000001 H1196.2250000000001" fill="none" stroke="#2a2a2a" stroke-width="1.25"/>
<text x="1126.2" y="564.9" font-size="12" fill="#444" text-anchor="middle">7:12AM</text>
<text x="1186.2250000000001" y="564.9" font-size="12" fill="#444" text-anchor="middle">4:09PM</text>
<path d="M1360.6,544.2 A5.7,5.7 0 0 1 1372.0,544.2 M1366.3,534.4000000000001 V536.8000000000001 M1359.3999999999999,537.3000000000001 L1361.1,539.0 M1373.2,537.3000000000001 L1371.5,539.0 M1356.3,544.2 H1359.0 M1373.6,544.2 H1376.3 M1356.3,546.9000000000001 H1362.8999999999999 L1366.3,544.4000000000001 L1369.7,546.9000000000001 H1376.3" fill="none" stroke="#2a2a2a" stroke-width="1.25"/>
<path d="M1420.6,544.2 A5.7,5.7 0 0 1 1432.0,544.2 M1426.3,534.4000000000001 V536.8000000000001 M1419.3999999999999,537.3000000000001 L1421.1,539.0 M1433.2,537.3000000000001 L1431.5,539.0 M1416.3,544.2 H1419.0 M1433.6,544.2 H1436.3 M1416.3,546.9000000000001 H1422.8999999999999 L1426.3,549.8000000000001 L1429.7,546.9000000000001 H1436.3" fill="none" stroke="#2a2a2a" stroke-width="1.25"/>
<text x="1366.3" y="564.9" font-size="12" fill="#444" text-anchor="middle">7:12AM</text>
<text x="1426.3" y="564.9" font-size="12" fill="#444" text-anchor="middle">4:11PM</text>
<path d="M1600.6,544.2 A5.7,5.7 0 0 1 1612.0,544.2 M1606.3,534.4000000000001 V536.8000000000001 M1599.3999999999999,537.3000000000001 L1601.1,539.0 M1613.2,537.3000000000001 L1611.5,539.0 M1596.3,544.2 H1599.0 M1613.6,544.2 H1616.3 M1596.3,546.9000000000001 H1602.8999999999999 L1606.3,544.4000000000001 L1609.7,546.9000000000001 H1616.3" fill="none" stroke="#2a2a2a" stroke-width="1.25"/>
<path d="M1660.6,544.2 A5.7,5.7 0 0 1 1672.0,544.2 M1666.3,534.4000000000001 V536.8000000000001 M1659.3999999999999,537.3000000000001 L1661.1,539.0 M1673.2,537.3000000000001 L1671.5,539.0 M1656.3,544.2 H1659.0 M1673.6,544.2 H1676.3 M1656.3,546.9000000000001 H1662.8999999999999 L1666.3,549.8000000000001 L1669.7,546.9000000000001 H1676.3" fill="none" stroke="#2a2a2a" stroke-width="1.25"/>
<text x="1606.3" y="564.9" font-size="12" fill="#444" text-anchor="middle">7:12AM</text>
<text x="1666.3" y="564.9" font-size="12" fill="#444" text-anchor="middle">4:11PM</text>
<path d="M161.32,582.0 A9.6,9.6 0 0 0 161.32,601.2 A0.01,9.6 0 0 1 161.32,582.0 Z" fill="#9a9a9a" stroke="#222" stroke-width="1"/>
<circle cx="161.32" cy="591.6" r="9.6" fill="none" stroke="#1d1d1d" stroke-width="1.3"/>
<path d="M154.22,623.1 A6.7,6.7 0 1 1 167.42,623.1" fill="none" stroke="#111" stroke-width="1.35"/>
<path d="M150.82,625.8 H157.51999999999998 L160.82,623.0 L164.12,625.8 H170.82" fill="none" stroke="#3a3a3a" stroke-width="1.3"/>
<text x="160.32" y="643.9" font-size="12" fill="#444" text-anchor="middle">10:54AM</text>
<path d="M281.47999999999996,582.0 A9.6,9.6 0 0 0 281.47999999999996,601.2 A0.768,9.6 0 0 1 281.47999999999996,582.0 Z" fill="#9a9a9a" stroke="#222" stroke-width="1"/>
<circle cx="281.47999999999996" cy="591.6" r="9.6" fill="none" stroke="#1d1d1d" stroke-width="1.3"/>
<path d="M274.37999999999994,623.1 A6.7,6.7 0 1 1 287.58,623.1" fill="none" stroke="#111" stroke-width="1.35"/>
<path d="M270.97999999999996,625.8 H277.67999999999995 L280.97999999999996,628.6999999999999 L284.28,625.8 H290.97999999999996" fill="none" stroke="#3a3a3a" stroke-width="1.3"/>
<text x="280.47999999999996" y="643.9" font-size="12" fill="#444" text-anchor="middle">11:05PM</text>
<path d="M401.64,582.0 A9.6,9.6 0 0 0 401.64,601.2 A0.96,9.6 0 0 1 401.64,582.0 Z" fill="#9a9a9a" stroke="#222" stroke-width="1"/>
<circle cx="401.64" cy="591.6" r="9.6" fill="none" stroke="#1d1d1d" stroke-width="1.3"/>
<path d="M394.53999999999996,623.1 A6.7,6.7 0 1 1 407.74,623.1" fill="none" stroke="#111" stroke-width="1.35"/>
<path d="M391.14,625.8 H397.84 L401.14,623.0 L404.44,625.8 H411.14" fill="none" stroke="#3a3a3a" stroke-width="1.3"/>
<text x="400.64" y="643.9" font-size="12" fill="#444" text-anchor="middle">11:13AM</text>
<path d="M581.8800000000001,582.0 A9.6,9.6 0 0 0 581.8800000000001,601.2 A1.92,9.6 0 0 1 581.8800000000001,582.0 Z" fill="#9a9a9a" stroke="#222" stroke-width="1"/>
<circle cx="581.8800000000001" cy="591.6" r="9.6" fill="none" stroke="#1d1d1d" stroke-width="1.3"/>
<path d="M574.7800000000001,623.1 A6.7,6.7 0 1 1 587.9800000000001,623.1" fill="none" stroke="#111" stroke-width="1.35"/>
<path d="M571.3800000000001,625.8 H578.0800000000002 L581.3800000000001,628.6999999999999 L584.6800000000001,625.8 H591.3800000000001" fill="none" stroke="#3a3a3a" stroke-width="1.3"/>
<text x="580.8800000000001" y="643.9" font-size="12" fill="#444" text-anchor="middle">00:18AM</text>
<path d="M641.96,582.0 A9.6,9.6 0 0 0 641.96,601.2 A2.4,9.6 0 0 1 641.96,582.0 Z" fill="#9a9a9a" stroke="#222" stroke-width="1"/>
<circle cx="641.96" cy="591.6" r="9.6" fill="none" stroke="#1d1d1d" stroke-width="1.3"/>
<path d="M634.86,623.1 A6.7,6.7 0 1 1 648.0600000000001,623.1" fill="none" stroke="#111" stroke-width="1.35"/>
<path d="M631.46,625.8 H638.1600000000001 L641.46,623.0 L644.76,625.8 H651.46" fill="none" stroke="#3a3a3a" stroke-width="1.3"/>
<text x="640.96" y="643.9" font-size="12" fill="#444" text-anchor="middle">11:34AM</text>
<path d="M822.2,582.0 A9.6,9.6 0 0 0 822.2,601.2 A3.36,9.6 0 0 1 822.2,582.0 Z" fill="#9a9a9a" stroke="#222" stroke-width="1"/>
<circle cx="822.2" cy="591.6" r="9.6" fill="none" stroke="#1d1d1d" stroke-width="1.3"/>
<path d="M815.1,623.1 A6.7,6.7 0 1 1 828.3000000000001,623.1" fill="none" stroke="#111" stroke-width="1.35"/>
<path d="M811.7,625.8 H818.4000000000001 L821.7,628.6999999999999 L825.0,625.8 H831.7" fill="none" stroke="#3a3a3a" stroke-width="1.3"/>
<text x="821.2" y="643.9" font-size="12" fill="#444" text-anchor="middle">1:34AM</text>
<path d="M882.28,582.0 A9.6,9.6 0 0 0 882.28,601.2 A3.84,9.6 0 0 1 882.28,582.0 Z" fill="#9a9a9a" stroke="#222" stroke-width="1"/>
<circle cx="882.28" cy="591.6" r="9.6" fill="none" stroke="#1d1d1d" stroke-width="1.3"/>
<path d="M875.18,623.1 A6.7,6.7 0 1 1 888.38,623.1" fill="none" stroke="#111" stroke-width="1.35"/>
<path d="M871.78,625.8 H878.48 L881.78,623.0 L885.0799999999999,625.8 H891.78" fill="none" stroke="#3a3a3a" stroke-width="1.3"/>
<text x="881.28" y="643.9" font-size="12" fill="#444" text-anchor="middle">11:58AM</text>
<path d="M1064.8500000000001,582.0 A9.6,9.6 0 0 0 1064.8500000000001,601.2 A4.032,9.6 0 0 1 1064.8500000000001,582.0 Z" fill="#9a9a9a" stroke="#222" stroke-width="1"/>
<circle cx="1064.8500000000001" cy="591.6" r="9.6" fill="none" stroke="#1d1d1d" stroke-width="1.3"/>
<path d="M1057.7500000000002,623.1 A6.7,6.7 0 1 1 1070.95,623.1" fill="none" stroke="#111" stroke-width="1.35"/>
<path d="M1054.3500000000001,625.8 H1061.0500000000002 L1064.3500000000001,628.6999999999999 L1067.65,625.8 H1074.3500000000001" fill="none" stroke="#3a3a3a" stroke-width="1.3"/>
<text x="1063.8500000000001" y="643.9" font-size="12" fill="#444" text-anchor="middle">2:54AM</text>
<path d="M1187.2250000000001,582.0 A9.6,9.6 0 0 0 1187.2250000000001,601.2 A4.8,9.6 0 0 1 1187.2250000000001,582.0 Z" fill="#9a9a9a" stroke="#222" stroke-width="1"/>
<circle cx="1187.2250000000001" cy="591.6" r="9.6" fill="none" stroke="#1d1d1d" stroke-width="1.3"/>
<path d="M1180.1250000000002,623.1 A6.7,6.7 0 1 1 1193.325,623.1" fill="none" stroke="#111" stroke-width="1.35"/>
<path d="M1176.7250000000001,625.8 H1183.4250000000002 L1186.7250000000001,623.0 L1190.025,625.8 H1196.7250000000001" fill="none" stroke="#3a3a3a" stroke-width="1.3"/>
<text x="1186.2250000000001" y="643.9" font-size="12" fill="#444" text-anchor="middle">12:28PM</text>
<path d="M1307.3,582.0 A9.6,9.6 0 0 0 1307.3,601.2 A5.76,9.6 0 0 1 1307.3,582.0 Z" fill="#9a9a9a" stroke="#222" stroke-width="1"/>
<circle cx="1307.3" cy="591.6" r="9.6" fill="none" stroke="#1d1d1d" stroke-width="1.3"/>
<path d="M1300.2,623.1 A6.7,6.7 0 1 1 1313.3999999999999,623.1" fill="none" stroke="#111" stroke-width="1.35"/>
<path d="M1296.8,625.8 H1303.5 L1306.8,628.6999999999999 L1310.1,625.8 H1316.8" fill="none" stroke="#3a3a3a" stroke-width="1.3"/>
<text x="1306.3" y="643.9" font-size="12" fill="#444" text-anchor="middle">4:16AM</text>
<path d="M1427.3,582.0 A9.6,9.6 0 0 0 1427.3,601.2 A6.5280000000000005,9.6 0 0 1 1427.3,582.0 Z" fill="#9a9a9a" stroke="#222" stroke-width="1"/>
<circle cx="1427.3" cy="591.6" r="9.6" fill="none" stroke="#1d1d1d" stroke-width="1.3"/>
<path d="M1420.2,623.1 A6.7,6.7 0 1 1 1433.3999999999999,623.1" fill="none" stroke="#111" stroke-width="1.35"/>
<path d="M1416.8,625.8 H1423.5 L1426.8,623.0 L1430.1,625.8 H1436.8" fill="none" stroke="#3a3a3a" stroke-width="1.3"/>
<text x="1426.3" y="643.9" font-size="12" fill="#444" text-anchor="middle">1:07PM</text>
<path d="M1547.3,582.0 A9.6,9.6 0 0 0 1547.3,601.2 A7.4879999999999995,9.6 0 0 1 1547.3,582.0 Z" fill="#9a9a9a" stroke="#222" stroke-width="1"/>
<circle cx="1547.3" cy="591.6" r="9.6" fill="none" stroke="#1d1d1d" stroke-width="1.3"/>
<path d="M1540.2,623.1 A6.7,6.7 0 1 1 1553.3999999999999,623.1" fill="none" stroke="#111" stroke-width="1.35"/>
<path d="M1536.8,625.8 H1543.5 L1546.8,628.6999999999999 L1550.1,625.8 H1556.8" fill="none" stroke="#3a3a3a" stroke-width="1.3"/>
<text x="1546.3" y="643.9" font-size="12" fill="#444" text-anchor="middle">5:37AM</text>
<path d="M1667.3,582.0 A9.6,9.6 0 0 0 1667.3,601.2 A8.064,9.6 0 0 1 1667.3,582.0 Z" fill="#9a9a9a" stroke="#222" stroke-width="1"/>
<circle cx="1667.3" cy="591.6" r="9.6" fill="none" stroke="#1d1d1d" stroke-width="1.3"/>
<path d="M1660.2,623.1 A6.7,6.7 0 1 1 1673.3999999999999,623.1" fill="none" stroke="#111" stroke-width="1.35"/>
<path d="M1656.8,625.8 H1663.5 L1666.8,623.0 L1670.1,625.8 H1676.8" fill="none" stroke="#3a3a3a" stroke-width="1.3"/>
<text x="1666.3" y="643.9" font-size="12" fill="#444" text-anchor="middle">2:00PM</text>
<g transform="translate(100.24000000000001,676)"><g transform="rotate(-22.5)"><path d="M-1.9,8 H1.9 V13.3 H6.7 L0,19.2 L-6.7,13.3 H-1.9 Z" fill="#000"/></g><circle r="10.3" fill="#000"/><text x="-0.5" y="4.8" font-size="14" fill="#19e619" text-anchor="middle" letter-spacing="-1">20</text></g>
<g transform="translate(160.32,676)"><g transform="rotate(0)"><path d="M-1.9,8 H1.9 V13.3 H6.7 L0,19.2 L-6.7,13.3 H-1.9 Z" fill="#000"/></g><circle r="10.3" fill="#000"/><text x="-0.5" y="4.8" font-size="14" fill="#19e619" text-anchor="middle" letter-spacing="-1">20</text></g>
<g transform="translate(220.39999999999998,676)"><g transform="rotate(0)"><path d="M-1.9,8 H1.9 V13.3 H6.7 L0,19.2 L-6.7,13.3 H-1.9 Z" fill="#000"/></g><circle r="10.3" fill="#000"/><text x="-0.5" y="4.8" font-size="14" fill="#ffffff" text-anchor="middle" letter-spacing="-1">10</text></g>
<g transform="translate(280.47999999999996,676)"><g transform="rotate(22.5)"><path d="M-1.9,8 H1.9 V13.3 H6.7 L0,19.2 L-6.7,13.3 H-1.9 Z" fill="#000"/></g><circle r="10.3" fill="#000"/><text x="-0.5" y="4.8" font-size="14" fill="#ffffff" text-anchor="middle" letter-spacing="-1">10</text></g>
<g transform="translate(340.56,676)"><g transform="rotate(22.5)"><path d="M-1.9,8 H1.9 V13.3 H6.7 L0,19.2 L-6.7,13.3 H-1.9 Z" fill="#000"/></g><circle r="10.3" fill="#000"/><text x="-0.5" y="4.8" font-size="14" fill="#ffffff" text-anchor="middle" letter-spacing="-1">10</text></g>
<g transform="translate(400.64,676)"><g transform="rotate(0)"><path d="M-1.9,8 H1.9 V13.3 H6.7 L0,19.2 L-6.7,13.3 H-1.9 Z" fill="#000"/></g><circle r="10.3" fill="#000"/><text x="-0.5" y="4.8" font-size="14" fill="#19e619" text-anchor="middle" letter-spacing="-1">10</text></g>
<g transform="translate(460.71999999999997,676)"><g transform="rotate(-22.5)"><path d="M-1.9,8 H1.9 V13.3 H6.7 L0,19.2 L-6.7,13.3 H-1.9 Z" fill="#000"/></g><circle r="10.3" fill="#000"/><text x="-0.5" y="4.8" font-size="14" fill="#ffffff" text-anchor="middle" letter-spacing="-1">10</text></g>
<g transform="translate(520.8000000000001,676)"><g transform="rotate(-45)"><path d="M-1.9,8 H1.9 V13.3 H6.7 L0,19.2 L-6.7,13.3 H-1.9 Z" fill="#000"/></g><circle r="10.3" fill="#000"/><text x="-0.5" y="4.8" font-size="14" fill="#19e619" text-anchor="middle" letter-spacing="-1">10</text></g>
<g transform="translate(580.8800000000001,676)"><g transform="rotate(-45)"><path d="M-1.9,8 H1.9 V13.3 H6.7 L0,19.2 L-6.7,13.3 H-1.9 Z" fill="#000"/></g><circle r="10.3" fill="#000"/><text x="-0.5" y="4.8" font-size="14" fill="#19e619" text-anchor="middle" letter-spacing="-1">10</text></g>
<g transform="translate(640.96,676)"><g transform="rotate(-22.5)"><path d="M-1.9,8 H1.9 V13.3 H6.7 L0,19.2 L-6.7,13.3 H-1.9 Z" fill="#000"/></g><circle r="10.3" fill="#000"/><text x="-0.5" y="4.8" font-size="14" fill="#19e619" text-anchor="middle" letter-spacing="-1">10</text></g>
<g transform="translate(701.04,676)"><g transform="rotate(-90)"><path d="M-1.9,8 H1.9 V13.3 H6.7 L0,19.2 L-6.7,13.3 H-1.9 Z" fill="#000"/></g><circle r="10.3" fill="#000"/><text x="-0.5" y="4.8" font-size="14" fill="#ffffff" text-anchor="middle" letter-spacing="-1">5</text></g>
<g transform="translate(761.1200000000001,676)"><g transform="rotate(-202.5)"><path d="M-1.9,8 H1.9 V13.3 H6.7 L0,19.2 L-6.7,13.3 H-1.9 Z" fill="#000"/></g><circle r="10.3" fill="#000"/><text x="-0.5" y="4.8" font-size="14" fill="#ffffff" text-anchor="middle" letter-spacing="-1">5</text></g>
<g transform="translate(821.2,676)"><g transform="rotate(-202.5)"><path d="M-1.9,8 H1.9 V13.3 H6.7 L0,19.2 L-6.7,13.3 H-1.9 Z" fill="#000"/></g><circle r="10.3" fill="#000"/><text x="-0.5" y="4.8" font-size="14" fill="#ffffff" text-anchor="middle" letter-spacing="-1">5</text></g>
<g transform="translate(881.28,676)"><g transform="rotate(-225)"><path d="M-1.9,8 H1.9 V13.3 H6.7 L0,19.2 L-6.7,13.3 H-1.9 Z" fill="#000"/></g><circle r="10.3" fill="#000"/><text x="-0.5" y="4.8" font-size="14" fill="#ffffff" text-anchor="middle" letter-spacing="-1">10</text></g>
<g transform="translate(941.3600000000001,676)"><g transform="rotate(-90)"><path d="M-1.9,8 H1.9 V13.3 H6.7 L0,19.2 L-6.7,13.3 H-1.9 Z" fill="#000"/></g><circle r="10.3" fill="#000"/><text x="-0.5" y="4.8" font-size="14" fill="#19e619" text-anchor="middle" letter-spacing="-1">10</text></g>
<g transform="translate(1001.45,676)"><g transform="rotate(-135)"><path d="M-1.9,8 H1.9 V13.3 H6.7 L0,19.2 L-6.7,13.3 H-1.9 Z" fill="#000"/></g><circle r="10.3" fill="#000"/><text x="-0.5" y="4.8" font-size="14" fill="#e6e619" text-anchor="middle" letter-spacing="-1">30</text></g>
<g transform="translate(1063.8500000000001,676)"><g transform="rotate(-135)"><path d="M-1.9,8 H1.9 V13.3 H6.7 L0,19.2 L-6.7,13.3 H-1.9 Z" fill="#000"/></g><circle r="10.3" fill="#000"/><text x="-0.5" y="4.8" font-size="14" fill="#e6e619" text-anchor="middle" letter-spacing="-1">30</text></g>
<g transform="translate(1126.2,676)"><g transform="rotate(-90)"><path d="M-1.9,8 H1.9 V13.3 H6.7 L0,19.2 L-6.7,13.3 H-1.9 Z" fill="#000"/></g><circle r="10.3" fill="#000"/><text x="-0.5" y="4.8" font-size="14" fill="#e6e619" text-anchor="middle" letter-spacing="-1">30</text></g>
<g transform="translate(1186.2250000000001,676)"><g transform="rotate(-90)"><path d="M-1.9,8 H1.9 V13.3 H6.7 L0,19.2 L-6.7,13.3 H-1.9 Z" fill="#000"/></g><circle r="10.3" fill="#000"/><text x="-0.5" y="4.8" font-size="14" fill="#19e619" text-anchor="middle" letter-spacing="-1">20</text></g>
<g transform="translate(1246.2749999999999,676)"><g transform="rotate(-90)"><path d="M-1.9,8 H1.9 V13.3 H6.7 L0,19.2 L-6.7,13.3 H-1.9 Z" fill="#000"/></g><circle r="10.3" fill="#000"/><text x="-0.5" y="4.8" font-size="14" fill="#19e619" text-anchor="middle" letter-spacing="-1">20</text></g>
<g transform="translate(1306.3,676)"><g transform="rotate(-90)"><path d="M-1.9,8 H1.9 V13.3 H6.7 L0,19.2 L-6.7,13.3 H-1.9 Z" fill="#000"/></g><circle r="10.3" fill="#000"/><text x="-0.5" y="4.8" font-size="14" fill="#19e619" text-anchor="middle" letter-spacing="-1">20</text></g>
<g transform="translate(1366.3,676)"><g transform="rotate(-135)"><path d="M-1.9,8 H1.9 V13.3 H6.7 L0,19.2 L-6.7,13.3 H-1.9 Z" fill="#000"/></g><circle r="10.3" fill="#000"/><text x="-0.5" y="4.8" font-size="14" fill="#e6e619" text-anchor="middle" letter-spacing="-1">25</text></g>
<g transform="translate(1426.3,676)"><g transform="rotate(-90)"><path d="M-1.9,8 H1.9 V13.3 H6.7 L0,19.2 L-6.7,13.3 H-1.9 Z" fill="#000"/></g><circle r="10.3" fill="#000"/><text x="-0.5" y="4.8" font-size="14" fill="#19e619" text-anchor="middle" letter-spacing="-1">15</text></g>
<g transform="translate(1486.3,676)"><g transform="rotate(-45)"><path d="M-1.9,8 H1.9 V13.3 H6.7 L0,19.2 L-6.7,13.3 H-1.9 Z" fill="#000"/></g><circle r="10.3" fill="#000"/><text x="-0.5" y="4.8" font-size="14" fill="#19e619" text-anchor="middle" letter-spacing="-1">10</text></g>
<g transform="translate(1546.3,676)"><g transform="rotate(-45)"><path d="M-1.9,8 H1.9 V13.3 H6.7 L0,19.2 L-6.7,13.3 H-1.9 Z" fill="#000"/></g><circle r="10.3" fill="#000"/><text x="-0.5" y="4.8" font-size="14" fill="#19e619" text-anchor="middle" letter-spacing="-1">10</text></g>
<g transform="translate(1606.3,676)"><g transform="rotate(-67.5)"><path d="M-1.9,8 H1.9 V13.3 H6.7 L0,19.2 L-6.7,13.3 H-1.9 Z" fill="#000"/></g><circle r="10.3" fill="#000"/><text x="-0.5" y="4.8" font-size="14" fill="#ffffff" text-anchor="middle" letter-spacing="-1">5</text></g>
<g transform="translate(1666.3,676)"><g transform="rotate(-90)"><path d="M-1.9,8 H1.9 V13.3 H6.7 L0,19.2 L-6.7,13.3 H-1.9 Z" fill="#000"/></g><circle r="10.3" fill="#000"/><text x="-0.5" y="4.8" font-size="14" fill="#19e619" text-anchor="middle" letter-spacing="-1">10</text></g>
<g transform="translate(1726.3,676)"><g transform="rotate(-135)"><path d="M-1.9,8 H1.9 V13.3 H6.7 L0,19.2 L-6.7,13.3 H-1.9 Z" fill="#000"/></g><circle r="10.3" fill="#000"/><text x="-0.5" y="4.8" font-size="14" fill="#19e619" text-anchor="middle" letter-spacing="-1">20</text></g>
<g clip-path="url(#footClip)">
<text x="25" y="779.5" font-family="DejaVu Sans, sans-serif" font-size="14.4" fill="#e6e6e6" textLength="220" lengthAdjust="spacingAndGlyphs">Powered by Tide-Forecast.com</text>
<rect x="252.0" y="766.5" width="16" height="15.5" fill="#e6e6e6"/>
<rect x="270.6" y="766.5" width="16" height="15.5" fill="#e6e6e6"/>
<rect x="289.2" y="766.5" width="16" height="15.5" fill="#e6e6e6"/>
<path d="M253.5,780.5 C255.5,764.5 257.5,764.5 260.0,774.5 S264.5,784.5 266.5,768.0" fill="none" stroke="#f3f3f3" stroke-width="1.3"/>
<path d="M273.6,771.0 H280.1 V776.5" fill="none" stroke="#f3f3f3" stroke-width="1.8"/><path d="M276.6,775.7 H283.6 L280.1,779.7 Z" fill="#f3f3f3"/>
<path d="M297.2,768.5 L301.4,780.5 H293.0 Z" fill="#f3f3f3"/>
<text x="365" y="779.5" font-family="DejaVu Sans, sans-serif" font-size="14.4" fill="#e6e6e6" textLength="220" lengthAdjust="spacingAndGlyphs">Powered by Tide-Forecast.com</text>
<rect x="592.0" y="766.5" width="16" height="15.5" fill="#e6e6e6"/>
<rect x="610.6" y="766.5" width="16" height="15.5" fill="#e6e6e6"/>
<rect x="629.2" y="766.5" width="16" height="15.5" fill="#e6e6e6"/>
<path d="M593.5,780.5 C595.5,764.5 597.5,764.5 600.0,774.5 S604.5,784.5 606.5,768.0" fill="none" stroke="#f3f3f3" stroke-width="1.3"/>
<path d="M613.6,771.0 H620.1 V776.5" fill="none" stroke="#f3f3f3" stroke-width="1.8"/><path d="M616.6,775.7 H623.6 L620.1,779.7 Z" fill="#f3f3f3"/>
<path d="M637.2,768.5 L641.4,780.5 H633.0 Z" fill="#f3f3f3"/>
<text x="705" y="779.5" font-family="DejaVu Sans, sans-serif" font-size="14.4" fill="#e6e6e6" textLength="220" lengthAdjust="spacingAndGlyphs">Powered by Tide-Forecast.com</text>
<rect x="932.0" y="766.5" width="16" height="15.5" fill="#e6e6e6"/>
<rect x="950.6" y="766.5" width="16" height="15.5" fill="#e6e6e6"/>
<rect x="969.2" y="766.5" width="16" height="15.5" fill="#e6e6e6"/>
<path d="M933.5,780.5 C935.5,764.5 937.5,764.5 940.0,774.5 S944.5,784.5 946.5,768.0" fill="none" stroke="#f3f3f3" stroke-width="1.3"/>
<path d="M953.6,771.0 H960.1 V776.5" fill="none" stroke="#f3f3f3" stroke-width="1.8"/><path d="M956.6,775.7 H963.6 L960.1,779.7 Z" fill="#f3f3f3"/>
<path d="M977.2,768.5 L981.4,780.5 H973.0 Z" fill="#f3f3f3"/>
<text x="1045" y="779.5" font-family="DejaVu Sans, sans-serif" font-size="14.4" fill="#e6e6e6" textLength="220" lengthAdjust="spacingAndGlyphs">Powered by Tide-Forecast.com</text>
<rect x="1272.0" y="766.5" width="16" height="15.5" fill="#e6e6e6"/>
<rect x="1290.6" y="766.5" width="16" height="15.5" fill="#e6e6e6"/>
<rect x="1309.2" y="766.5" width="16" height="15.5" fill="#e6e6e6"/>
<path d="M1273.5,780.5 C1275.5,764.5 1277.5,764.5 1280.0,774.5 S1284.5,784.5 1286.5,768.0" fill="none" stroke="#f3f3f3" stroke-width="1.3"/>
<path d="M1293.6,771.0 H1300.1 V776.5" fill="none" stroke="#f3f3f3" stroke-width="1.8"/><path d="M1296.6,775.7 H1303.6 L1300.1,779.7 Z" fill="#f3f3f3"/>
<path d="M1317.2,768.5 L1321.4,780.5 H1313.0 Z" fill="#f3f3f3"/>
<text x="1385" y="779.5" font-family="DejaVu Sans, sans-serif" font-size="14.4" fill="#e6e6e6" textLength="220" lengthAdjust="spacingAndGlyphs">Powered by Tide-Forecast.com</text>
<rect x="1612.0" y="766.5" width="16" height="15.5" fill="#e6e6e6"/>
<rect x="1630.6" y="766.5" width="16" height="15.5" fill="#e6e6e6"/>
<rect x="1649.2" y="766.5" width="16" height="15.5" fill="#e6e6e6"/>
<path d="M1613.5,780.5 C1615.5,764.5 1617.5,764.5 1620.0,774.5 S1624.5,784.5 1626.5,768.0" fill="none" stroke="#f3f3f3" stroke-width="1.3"/>
<path d="M1633.6,771.0 H1640.1 V776.5" fill="none" stroke="#f3f3f3" stroke-width="1.8"/><path d="M1636.6,775.7 H1643.6 L1640.1,779.7 Z" fill="#f3f3f3"/>
<path d="M1657.2,768.5 L1661.4,780.5 H1653.0 Z" fill="#f3f3f3"/>
<text x="1725" y="779.5" font-family="DejaVu Sans, sans-serif" font-size="14.4" fill="#e6e6e6" textLength="220" lengthAdjust="spacingAndGlyphs">Powered by Tide-Forecast.com</text>
<rect x="1952.0" y="766.5" width="16" height="15.5" fill="#e6e6e6"/>
<rect x="1970.6" y="766.5" width="16" height="15.5" fill="#e6e6e6"/>
<rect x="1989.2" y="766.5" width="16" height="15.5" fill="#e6e6e6"/>
<path d="M1953.5,780.5 C1955.5,764.5 1957.5,764.5 1960.0,774.5 S1964.5,784.5 1966.5,768.0" fill="none" stroke="#f3f3f3" stroke-width="1.3"/>
<path d="M1973.6,771.0 H1980.1 V776.5" fill="none" stroke="#f3f3f3" stroke-width="1.8"/><path d="M1976.6,775.7 H1983.6 L1980.1,779.7 Z" fill="#f3f3f3"/>
<path d="M1997.2,768.5 L2001.4,780.5 H1993.0 Z" fill="#f3f3f3"/>
<text x="2065" y="779.5" font-family="DejaVu Sans, sans-serif" font-size="14.4" fill="#e6e6e6" textLength="220" lengthAdjust="spacingAndGlyphs">Powered by Tide-Forecast.com</text>
<rect x="2292.0" y="766.5" width="16" height="15.5" fill="#e6e6e6"/>
<rect x="2310.6" y="766.5" width="16" height="15.5" fill="#e6e6e6"/>
<rect x="2329.2" y="766.5" width="16" height="15.5" fill="#e6e6e6"/>
<path d="M2293.5,780.5 C2295.5,764.5 2297.5,764.5 2300.0,774.5 S2304.5,784.5 2306.5,768.0" fill="none" stroke="#f3f3f3" stroke-width="1.3"/>
<path d="M2313.6,771.0 H2320.1 V776.5" fill="none" stroke="#f3f3f3" stroke-width="1.8"/><path d="M2316.6,775.7 H2323.6 L2320.1,779.7 Z" fill="#f3f3f3"/>
<path d="M2337.2,768.5 L2341.4,780.5 H2333.0 Z" fill="#f3f3f3"/>
</g>
<defs><linearGradient id="skyDay" x1="0" y1="0" x2="0" y2="1"><stop offset="0" stop-color="#5f6fb1"/><stop offset="1" stop-color="#b4bcd9"/></linearGradient>
<linearGradient id="skyRain" x1="0" y1="0" x2="0" y2="1"><stop offset="0" stop-color="#5f6c7e"/><stop offset="0.6" stop-color="#75849a"/><stop offset="1" stop-color="#6b7a8e"/></linearGradient>
<linearGradient id="skyOvc" x1="0" y1="0" x2="0" y2="1"><stop offset="0" stop-color="#7d8189"/><stop offset="0.45" stop-color="#a9abb1"/><stop offset="1" stop-color="#dedee2"/></linearGradient>
<radialGradient id="sunG" cx="0.5" cy="0.5" r="0.5"><stop offset="0" stop-color="#f8df68"/><stop offset="0.7" stop-color="#f0cf4c"/><stop offset="1" stop-color="#e8bf3c"/></radialGradient>
<radialGradient id="moonG" cx="0.38" cy="0.4" r="0.65"><stop offset="0" stop-color="#eeefb4"/><stop offset="0.75" stop-color="#e6e7a8"/><stop offset="1" stop-color="#c9ca8c"/></radialGradient>
<filter id="blur1" x="-20%" y="-20%" width="140%" height="140%"><feGaussianBlur stdDeviation="0.9"/></filter>
<symbol id="wxA" viewBox="0 0 59 59" overflow="hidden"><rect width="59" height="59" fill="#0a0a12"/><circle cx="20" cy="22.4" r="14.2" fill="url(#moonG)"/><circle cx="19.5" cy="16.9" r="2.0" fill="#d2d49a" fill-opacity="0.9"/><circle cx="24.3" cy="21.1" r="2.0" fill="#d2d49a" fill-opacity="0.9"/><circle cx="10.9" cy="18.8" r="1.7" fill="#d2d49a" fill-opacity="0.9"/><circle cx="18.5" cy="26.4" r="2.2" fill="#d2d49a" fill-opacity="0.9"/><circle cx="17.0" cy="24.2" r="1.4" fill="#d2d49a" fill-opacity="0.9"/><circle cx="39" cy="8" r="1.15" fill="#7c7c78"/><circle cx="40.9" cy="20.4" r="1.15" fill="#7c7c78"/><circle cx="15.5" cy="45.5" r="1.15" fill="#7c7c78"/><circle cx="33.5" cy="49.5" r="1.15" fill="#7c7c78"/></symbol>
<symbol id="wxB" viewBox="0 0 59 59" overflow="hidden"><rect width="59" height="59" fill="url(#skyDay)"/><polygon points="35.37,16.43 33.28,9.49 28.70,15.11" fill="#ffffff"/><polygon points="39.90,19.75 40.63,12.54 34.25,15.97" fill="#ffffff"/><polygon points="42.83,24.55 46.26,18.17 39.05,18.90" fill="#ffffff"/><polygon points="43.69,30.10 49.31,25.52 42.37,23.43" fill="#ffffff"/><polygon points="42.37,35.57 49.31,33.48 43.69,28.90" fill="#ffffff"/><polygon points="39.05,40.10 46.26,40.83 42.83,34.45" fill="#ffffff"/><polygon points="34.25,43.03 40.63,46.46 39.90,39.25" fill="#ffffff"/><polygon points="28.70,43.89 33.28,49.51 35.37,42.57" fill="#ffffff"/><polygon points="23.23,42.57 25.32,49.51 29.90,43.89" fill="#ffffff"/><polygon points="18.70,39.25 17.97,46.46 24.35,43.03" fill="#ffffff"/><polygon points="15.77,34.45 12.34,40.83 19.55,40.10" fill="#ffffff"/><polygon points="14.91,28.90 9.29,33.48 16.23,35.57" fill="#ffffff"/><polygon points="16.23,23.43 9.29,25.52 14.91,30.10" fill="#ffffff"/><polygon points="19.55,18.90 12.34,18.17 15.77,24.55" fill="#ffffff"/><polygon points="24.35,15.97 17.97,12.54 18.70,19.75" fill="#ffffff"/><polygon points="29.90,15.11 25.32,9.49 23.23,16.43" fill="#ffffff"/><polygon points="31.90,15.50 29.30,4.50 26.70,15.50" fill="#f2d651"/><polygon points="37.06,17.56 38.87,6.40 32.26,15.57" fill="#f2d651"/><polygon points="41.04,21.44 46.98,11.82 37.36,17.76" fill="#f2d651"/><polygon points="43.23,26.54 52.40,19.93 41.24,21.74" fill="#f2d651"/><polygon points="43.30,32.10 54.30,29.50 43.30,26.90" fill="#f2d651"/><polygon points="41.24,37.26 52.40,39.07 43.23,32.46" fill="#f2d651"/><polygon points="37.36,41.24 46.98,47.18 41.04,37.56" fill="#f2d651"/><polygon points="32.26,43.43 38.87,52.60 37.06,41.44" fill="#f2d651"/><polygon points="26.70,43.50 29.30,54.50 31.90,43.50" fill="#f2d651"/><polygon points="21.54,41.44 19.73,52.60 26.34,43.43" fill="#f2d651"/><polygon points="17.56,37.56 11.62,47.18 21.24,41.24" fill="#f2d651"/><polygon points="15.37,32.46 6.20,39.07 17.36,37.26" fill="#f2d651"/><polygon points="15.30,26.90 4.30,29.50 15.30,32.10" fill="#f2d651"/><polygon points="17.36,21.74 6.20,19.93 15.37,26.54" fill="#f2d651"/><polygon points="21.24,17.76 11.62,11.82 17.56,21.44" fill="#f2d651"/><polygon points="26.34,15.57 19.73,6.40 21.54,17.56" fill="#f2d651"/><circle cx="29.3" cy="29.5" r="14.9" fill="url(#sunG)"/></symbol>
<symbol id="wxC" viewBox="0 0 59 59" overflow="hidden"><rect width="59" height="59" fill="url(#skyDay)"/><g filter="url(#blur1)"><polygon points="32.10,14.30 29.30,4.30 26.50,14.30" fill="#f3dc62"/><polygon points="37.63,16.51 38.87,6.20 32.45,14.37" fill="#f3dc62"/><polygon points="41.89,20.67 46.98,11.62 37.93,16.71" fill="#f3dc62"/><polygon points="44.23,26.15 52.40,19.73 42.09,20.97" fill="#f3dc62"/><polygon points="44.30,32.10 54.30,29.30 44.30,26.50" fill="#f3dc62"/><polygon points="42.09,37.63 52.40,38.87 44.23,32.45" fill="#f3dc62"/><polygon points="37.93,41.89 46.98,46.98 41.89,37.93" fill="#f3dc62"/><polygon points="32.45,44.23 38.87,52.40 37.63,42.09" fill="#f3dc62"/><polygon points="26.50,44.30 29.30,54.30 32.10,44.30" fill="#f3dc62"/><polygon points="20.97,42.09 19.73,52.40 26.15,44.23" fill="#f3dc62"/><polygon points="16.71,37.93 11.62,46.98 20.67,41.89" fill="#f3dc62"/><polygon points="14.37,32.45 6.20,38.87 16.51,37.63" fill="#f3dc62"/><polygon points="14.30,26.50 4.30,29.30 14.30,32.10" fill="#f3dc62"/><polygon points="16.51,20.97 6.20,19.73 14.37,26.15" fill="#f3dc62"/><polygon points="20.67,16.71 11.62,11.62 16.71,20.67" fill="#f3dc62"/><polygon points="26.15,14.37 19.73,6.20 20.97,16.51" fill="#f3dc62"/><circle cx="29.3" cy="29.3" r="16.6" fill="#ffffff"/></g><circle cx="29.3" cy="29.3" r="14.4" fill="url(#sunG)"/><linearGradient id="pca" gradientUnits="userSpaceOnUse" x1="0" y1="21" x2="0" y2="43"><stop offset="0" stop-color="#f3f3f7"/><stop offset="0.3" stop-color="#dedfe5"/><stop offset="0.6" stop-color="#a3a5ae"/><stop offset="1" stop-color="#646871"/></linearGradient><g fill="#b4b6be"><circle cx="30.8" cy="35.5" r="4.7"/><circle cx="36.5" cy="30.5" r="6.1"/><circle cx="45.1" cy="27.3" r="6.7"/><circle cx="53.7" cy="30.3" r="6.1"/><circle cx="59.5" cy="33" r="5.0"/><rect x="27.5" y="30.5" width="35.0" height="11.0" rx="4.5" ry="4.5"/></g><g fill="url(#pca)"><circle cx="30.8" cy="35.5" r="4.2"/><circle cx="36.5" cy="30.5" r="5.6"/><circle cx="45.1" cy="27.3" r="6.2"/><circle cx="53.7" cy="30.3" r="5.6"/><circle cx="59.5" cy="33" r="4.5"/><rect x="28" y="31" width="34" height="10" rx="4" ry="4"/></g><linearGradient id="pcb" gradientUnits="userSpaceOnUse" x1="0" y1="32" x2="0" y2="52"><stop offset="0" stop-color="#f3f3f7"/><stop offset="0.3" stop-color="#dedfe5"/><stop offset="0.6" stop-color="#a3a5ae"/><stop offset="1" stop-color="#646871"/></linearGradient><g fill="#b4b6be"><circle cx="29.6" cy="46" r="5.8"/><circle cx="35" cy="39.7" r="5.9"/><circle cx="43.9" cy="37.6" r="6.2"/><circle cx="49" cy="43" r="5.5"/><rect x="24.5" y="40.5" width="28.0" height="11.600000000000001" rx="5.5" ry="5.5"/></g><g fill="url(#pcb)"><circle cx="29.6" cy="46" r="5.3"/><circle cx="35" cy="39.7" r="5.4"/><circle cx="43.9" cy="37.6" r="5.7"/><circle cx="49" cy="43" r="5"/><rect x="25" y="41" width="27" height="10.600000000000001" rx="5" ry="5"/></g><linearGradient id="pcc" gradientUnits="userSpaceOnUse" x1="0" y1="35" x2="0" y2="52"><stop offset="0" stop-color="#f3f3f7"/><stop offset="0.3" stop-color="#dedfe5"/><stop offset="0.6" stop-color="#a3a5ae"/><stop offset="1" stop-color="#646871"/></linearGradient><g fill="#b4b6be"><circle cx="47.5" cy="46.5" r="5.5"/><circle cx="52" cy="41" r="5.5"/><circle cx="57.6" cy="40.4" r="5.7"/><circle cx="61" cy="45" r="5.5"/><rect x="43.0" y="41.5" width="21.5" height="10.600000000000001" rx="5.5" ry="5.5"/></g><g fill="url(#pcc)"><circle cx="47.5" cy="46.5" r="5"/><circle cx="52" cy="41" r="5"/><circle cx="57.6" cy="40.4" r="5.2"/><circle cx="61" cy="45" r="5"/><rect x="43.5" y="42" width="20.5" height="9.600000000000001" rx="5" ry="5"/></g></symbol>
<symbol id="wxD" viewBox="0 0 59 59" overflow="hidden"><rect width="59" height="59" fill="#0a0a12"/><linearGradient id="tca" gradientUnits="userSpaceOnUse" x1="0" y1="2.8" x2="0" y2="20"><stop offset="0" stop-color="#f6f6f9"/><stop offset="0.5" stop-color="#e4e5ea"/><stop offset="1" stop-color="#a6a8b1"/></linearGradient><g><path d="M-2,8.6 A3.75,2.00 0 0 1 5.5,8.2 A6.25,5.90 0 0 1 18,9.4 A4.60,3.40 0 0 1 27.2,10.4 L30.5,11.8 L30,18 L-2,18 Z" fill="url(#tca)" stroke="#b9bbc3" stroke-width="0.7" stroke-linejoin="round"/></g><linearGradient id="tcb" gradientUnits="userSpaceOnUse" x1="0" y1="2.8" x2="0" y2="20"><stop offset="0" stop-color="#f6f6f9"/><stop offset="0.5" stop-color="#e4e5ea"/><stop offset="1" stop-color="#a6a8b1"/></linearGradient><g><path d="M41.3,8.4 A4.15,2.10 0 0 1 49.6,7.6 A6.20,5.30 0 0 1 62,9.5 L62,18 L41,18 Z" fill="url(#tcb)" stroke="#b9bbc3" stroke-width="0.7" stroke-linejoin="round"/></g><linearGradient id="tcc" gradientUnits="userSpaceOnUse" x1="0" y1="7.5" x2="0" y2="26.3"><stop offset="0" stop-color="#f5f5f8"/><stop offset="0.25" stop-color="#e4e5ea"/><stop offset="0.5" stop-color="#bcbec6"/><stop offset="0.75" stop-color="#8e919a"/><stop offset="1" stop-color="#646870"/></linearGradient><g><path d="M23.8,14.8 Q26.5,13.2 30,13.3 A7.30,5.80 0 0 1 44.6,13.6 A5.20,3.00 0 0 1 55,14.6 A3.50,2.00 0 0 1 62,16 L62,26 L49,26.1 Q36,27 28,22 Q24,18 23.8,14.8 Z" fill="url(#tcc)" stroke="#b9bbc3" stroke-width="0.7" stroke-linejoin="round"/><path d="M31,26 Q34,19.8 38.5,20 Q42,20.6 44.5,23.5 Q47.5,17.6 52,18 Q56,18.8 58.5,22.5 L61,23 L61,26.1 L40,26.5 Z" fill="#5a5e68" fill-opacity="0.22"/></g><linearGradient id="tcd" gradientUnits="userSpaceOnUse" x1="0" y1="11" x2="0" y2="29.8"><stop offset="0" stop-color="#f5f5f8"/><stop offset="0.25" stop-color="#e4e5ea"/><stop offset="0.5" stop-color="#bcbec6"/><stop offset="0.75" stop-color="#8e919a"/><stop offset="1" stop-color="#646870"/></linearGradient><g><path d="M-2,14.6 A8.75,3.50 0 0 1 15.5,14.4 A4.95,2.60 0 0 1 25.4,15.8 Q28,19 27,24 L20,29.5 L-2,29.5 Z" fill="url(#tcd)" stroke="#b9bbc3" stroke-width="0.7" stroke-linejoin="round"/><path d="M-2,29.5 L-2,21.5 Q2.5,18.6 6,19.8 Q10,21.6 13,27 L14.5,29.5 Z" fill="#5a5e68" fill-opacity="0.22"/></g><linearGradient id="tce" gradientUnits="userSpaceOnUse" x1="0" y1="17.4" x2="0" y2="36.6"><stop offset="0" stop-color="#f5f5f8"/><stop offset="0.25" stop-color="#e4e5ea"/><stop offset="0.5" stop-color="#bcbec6"/><stop offset="0.75" stop-color="#8e919a"/><stop offset="1" stop-color="#646870"/></linearGradient><g><path d="M5.2,34.6 A5.4,5.4 0 0 1 9.6,25.2 A6.50,4.40 0 0 1 22.6,21.6 A6.80,4.50 0 0 1 36.2,22.2 A4.70,3.00 0 0 1 45.6,25.4 A5.4,5.4 0 0 1 50,34.6 Q27.6,38.4 5.2,34.6 Z" fill="url(#tce)" stroke="#b9bbc3" stroke-width="0.7" stroke-linejoin="round"/><path d="M8,35 L9,30.5 Q13,24 18,24.2 Q22,24.8 25.4,28.2 Q29,24.4 32.4,25 Q36,25.8 39,29.2 Q43,27.2 46,30.4 L47.4,35 Q27.6,37.8 8,35 Z" fill="#5a5e68" fill-opacity="0.22"/></g></symbol>
<symbol id="wxE" viewBox="0 0 59 59" overflow="hidden"><rect width="59" height="59" fill="#0a0a12"/><linearGradient id="tea" gradientUnits="userSpaceOnUse" x1="0" y1="2.8" x2="0" y2="20"><stop offset="0" stop-color="#f6f6f9"/><stop offset="0.5" stop-color="#e4e5ea"/><stop offset="1" stop-color="#a6a8b1"/></linearGradient><g><path d="M-2,8.6 A3.75,2.00 0 0 1 5.5,8.2 A6.25,5.90 0 0 1 18,9.4 A4.60,3.40 0 0 1 27.2,10.4 L30.5,11.8 L30,18 L-2,18 Z" fill="url(#tea)" stroke="#b9bbc3" stroke-width="0.7" stroke-linejoin="round"/></g><linearGradient id="teb" gradientUnits="userSpaceOnUse" x1="0" y1="2.8" x2="0" y2="20"><stop offset="0" stop-color="#f6f6f9"/><stop offset="0.5" stop-color="#e4e5ea"/><stop offset="1" stop-color="#a6a8b1"/></linearGradient><g><path d="M41.3,8.4 A4.15,2.10 0 0 1 49.6,7.6 A6.20,5.30 0 0 1 62,9.5 L62,18 L41,18 Z" fill="url(#teb)" stroke="#b9bbc3" stroke-width="0.7" stroke-linejoin="round"/></g><linearGradient id="tec" gradientUnits="userSpaceOnUse" x1="0" y1="7.5" x2="0" y2="26.3"><stop offset="0" stop-color="#f5f5f8"/><stop offset="0.25" stop-color="#e4e5ea"/><stop offset="0.5" stop-color="#bcbec6"/><stop offset="0.75" stop-color="#8e919a"/><stop offset="1" stop-color="#646870"/></linearGradient><g><path d="M23.8,14.8 Q26.5,13.2 30,13.3 A7.30,5.80 0 0 1 44.6,13.6 A5.20,3.00 0 0 1 55,14.6 A3.50,2.00 0 0 1 62,16 L62,26 L49,26.1 Q36,27 28,22 Q24,18 23.8,14.8 Z" fill="url(#tec)" stroke="#b9bbc3" stroke-width="0.7" stroke-linejoin="round"/><path d="M31,26 Q34,19.8 38.5,20 Q42,20.6 44.5,23.5 Q47.5,17.6 52,18 Q56,18.8 58.5,22.5 L61,23 L61,26.1 L40,26.5 Z" fill="#5a5e68" fill-opacity="0.22"/></g><linearGradient id="ted" gradientUnits="userSpaceOnUse" x1="0" y1="11" x2="0" y2="29.8"><stop offset="0" stop-color="#f5f5f8"/><stop offset="0.25" stop-color="#e4e5ea"/><stop offset="0.5" stop-color="#bcbec6"/><stop offset="0.75" stop-color="#8e919a"/><stop offset="1" stop-color="#646870"/></linearGradient><g><path d="M-2,14.6 A8.75,3.50 0 0 1 15.5,14.4 A4.95,2.60 0 0 1 25.4,15.8 Q28,19 27,24 L20,29.5 L-2,29.5 Z" fill="url(#ted)" stroke="#b9bbc3" stroke-width="0.7" stroke-linejoin="round"/><path d="M-2,29.5 L-2,21.5 Q2.5,18.6 6,19.8 Q10,21.6 13,27 L14.5,29.5 Z" fill="#5a5e68" fill-opacity="0.22"/></g><linearGradient id="tee" gradientUnits="userSpaceOnUse" x1="0" y1="17.4" x2="0" y2="36.6"><stop offset="0" stop-color="#f5f5f8"/><stop offset="0.25" stop-color="#e4e5ea"/><stop offset="0.5" stop-color="#bcbec6"/><stop offset="0.75" stop-color="#8e919a"/><stop offset="1" stop-color="#646870"/></linearGradient><g transform="translate(4,0)"><path d="M5.2,34.6 A5.4,5.4 0 0 1 9.6,25.2 A6.50,4.40 0 0 1 22.6,21.6 A6.80,4.50 0 0 1 36.2,22.2 A4.70,3.00 0 0 1 45.6,25.4 A5.4,5.4 0 0 1 50,34.6 Q27.6,38.4 5.2,34.6 Z" fill="url(#tee)" stroke="#b9bbc3" stroke-width="0.7" stroke-linejoin="round"/><path d="M8,35 L9,30.5 Q13,24 18,24.2 Q22,24.8 25.4,28.2 Q29,24.4 32.4,25 Q36,25.8 39,29.2 Q43,27.2 46,30.4 L47.4,35 Q27.6,37.8 8,35 Z" fill="#5a5e68" fill-opacity="0.22"/></g><line x1="16.9" y1="39.7" x2="12.999999999999998" y2="47.300000000000004" stroke="#cfc6dc" stroke-width="1.35" stroke-linecap="round"/><line x1="29.3" y1="47.4" x2="25.400000000000002" y2="55.0" stroke="#cfc6dc" stroke-width="1.35" stroke-linecap="round"/><line x1="46" y1="39.7" x2="42.1" y2="47.300000000000004" stroke="#cfc6dc" stroke-width="1.35" stroke-linecap="round"/></symbol>
<symbol id="wxF" viewBox="0 0 59 59" overflow="hidden"><rect width="59" height="59" fill="url(#skyRain)"/><linearGradient id="tfa" gradientUnits="userSpaceOnUse" x1="0" y1="2.8" x2="0" y2="20"><stop offset="0" stop-color="#f6f6f9"/><stop offset="0.5" stop-color="#e4e5ea"/><stop offset="1" stop-color="#a6a8b1"/></linearGradient><g><path d="M-2,8.6 A3.75,2.00 0 0 1 5.5,8.2 A6.25,5.90 0 0 1 18,9.4 A4.60,3.40 0 0 1 27.2,10.4 L30.5,11.8 L30,18 L-2,18 Z" fill="url(#tfa)" stroke="#b9bbc3" stroke-width="0.7" stroke-linejoin="round"/></g><linearGradient id="tfb" gradientUnits="userSpaceOnUse" x1="0" y1="2.8" x2="0" y2="20"><stop offset="0" stop-color="#f6f6f9"/><stop offset="0.5" stop-color="#e4e5ea"/><stop offset="1" stop-color="#a6a8b1"/></linearGradient><g><path d="M41.3,8.4 A4.15,2.10 0 0 1 49.6,7.6 A6.20,5.30 0 0 1 62,9.5 L62,18 L41,18 Z" fill="url(#tfb)" stroke="#b9bbc3" stroke-width="0.7" stroke-linejoin="round"/></g><linearGradient id="tfc" gradientUnits="userSpaceOnUse" x1="0" y1="7.5" x2="0" y2="26.3"><stop offset="0" stop-color="#f5f5f8"/><stop offset="0.25" stop-color="#e4e5ea"/><stop offset="0.5" stop-color="#bcbec6"/><stop offset="0.75" stop-color="#8e919a"/><stop offset="1" stop-color="#646870"/></linearGradient><g><path d="M23.8,14.8 Q26.5,13.2 30,13.3 A7.30,5.80 0 0 1 44.6,13.6 A5.20,3.00 0 0 1 55,14.6 A3.50,2.00 0 0 1 62,16 L62,26 L49,26.1 Q36,27 28,22 Q24,18 23.8,14.8 Z" fill="url(#tfc)" stroke="#b9bbc3" stroke-width="0.7" stroke-linejoin="round"/><path d="M31,26 Q34,19.8 38.5,20 Q42,20.6 44.5,23.5 Q47.5,17.6 52,18 Q56,18.8 58.5,22.5 L61,23 L61,26.1 L40,26.5 Z" fill="#5a5e68" fill-opacity="0.22"/></g><linearGradient id="tfd" gradientUnits="userSpaceOnUse" x1="0" y1="11" x2="0" y2="29.8"><stop offset="0" stop-color="#f5f5f8"/><stop offset="0.25" stop-color="#e4e5ea"/><stop offset="0.5" stop-color="#bcbec6"/><stop offset="0.75" stop-color="#8e919a"/><stop offset="1" stop-color="#646870"/></linearGradient><g><path d="M-2,14.6 A8.75,3.50 0 0 1 15.5,14.4 A4.95,2.60 0 0 1 25.4,15.8 Q28,19 27,24 L20,29.5 L-2,29.5 Z" fill="url(#tfd)" stroke="#b9bbc3" stroke-width="0.7" stroke-linejoin="round"/><path d="M-2,29.5 L-2,21.5 Q2.5,18.6 6,19.8 Q10,21.6 13,27 L14.5,29.5 Z" fill="#5a5e68" fill-opacity="0.22"/></g><linearGradient id="tfe" gradientUnits="userSpaceOnUse" x1="0" y1="17.4" x2="0" y2="36.6"><stop offset="0" stop-color="#f5f5f8"/><stop offset="0.25" stop-color="#e4e5ea"/><stop offset="0.5" stop-color="#bcbec6"/><stop offset="0.75" stop-color="#8e919a"/><stop offset="1" stop-color="#646870"/></linearGradient><g transform="translate(4,0)"><path d="M5.2,34.6 A5.4,5.4 0 0 1 9.6,25.2 A6.50,4.40 0 0 1 22.6,21.6 A6.80,4.50 0 0 1 36.2,22.2 A4.70,3.00 0 0 1 45.6,25.4 A5.4,5.4 0 0 1 50,34.6 Q27.6,38.4 5.2,34.6 Z" fill="url(#tfe)" stroke="#b9bbc3" stroke-width="0.7" stroke-linejoin="round"/><path d="M8,35 L9,30.5 Q13,24 18,24.2 Q22,24.8 25.4,28.2 Q29,24.4 32.4,25 Q36,25.8 39,29.2 Q43,27.2 46,30.4 L47.4,35 Q27.6,37.8 8,35 Z" fill="#5a5e68" fill-opacity="0.22"/></g><line x1="12.6" y1="38.6" x2="8.7" y2="46.2" stroke="#c4b9d2" stroke-width="1.35" stroke-linecap="round"/><line x1="28.9" y1="38.6" x2="25.0" y2="46.2" stroke="#c4b9d2" stroke-width="1.35" stroke-linecap="round"/><line x1="45.1" y1="38.6" x2="41.2" y2="46.2" stroke="#c4b9d2" stroke-width="1.35" stroke-linecap="round"/><line x1="17.1" y1="48.4" x2="13.200000000000001" y2="56.0" stroke="#c4b9d2" stroke-width="1.35" stroke-linecap="round"/><line x1="33.7" y1="48.4" x2="29.800000000000004" y2="56.0" stroke="#c4b9d2" stroke-width="1.35" stroke-linecap="round"/><line x1="50" y1="48.4" x2="46.1" y2="56.0" stroke="#c4b9d2" stroke-width="1.35" stroke-linecap="round"/></symbol>
<symbol id="wxF2" viewBox="0 0 59 59" overflow="hidden"><rect width="59" height="59" fill="url(#skyRain)"/><linearGradient id="tga" gradientUnits="userSpaceOnUse" x1="0" y1="2.8" x2="0" y2="20"><stop offset="0" stop-color="#f6f6f9"/><stop offset="0.5" stop-color="#e4e5ea"/><stop offset="1" stop-color="#a6a8b1"/></linearGradient><g><path d="M-2,8.6 A3.75,2.00 0 0 1 5.5,8.2 A6.25,5.90 0 0 1 18,9.4 A4.60,3.40 0 0 1 27.2,10.4 L30.5,11.8 L30,18 L-2,18 Z" fill="url(#tga)" stroke="#b9bbc3" stroke-width="0.7" stroke-linejoin="round"/></g><linearGradient id="tgb" gradientUnits="userSpaceOnUse" x1="0" y1="2.8" x2="0" y2="20"><stop offset="0" stop-color="#f6f6f9"/><stop offset="0.5" stop-color="#e4e5ea"/><stop offset="1" stop-color="#a6a8b1"/></linearGradient><g><path d="M41.3,8.4 A4.15,2.10 0 0 1 49.6,7.6 A6.20,5.30 0 0 1 62,9.5 L62,18 L41,18 Z" fill="url(#tgb)" stroke="#b9bbc3" stroke-width="0.7" stroke-linejoin="round"/></g><linearGradient id="tgc" gradientUnits="userSpaceOnUse" x1="0" y1="7.5" x2="0" y2="26.3"><stop offset="0" stop-color="#f5f5f8"/><stop offset="0.25" stop-color="#e4e5ea"/><stop offset="0.5" stop-color="#bcbec6"/><stop offset="0.75" stop-color="#8e919a"/><stop offset="1" stop-color="#646870"/></linearGradient><g><path d="M23.8,14.8 Q26.5,13.2 30,13.3 A7.30,5.80 0 0 1 44.6,13.6 A5.20,3.00 0 0 1 55,14.6 A3.50,2.00 0 0 1 62,16 L62,26 L49,26.1 Q36,27 28,22 Q24,18 23.8,14.8 Z" fill="url(#tgc)" stroke="#b9bbc3" stroke-width="0.7" stroke-linejoin="round"/><path d="M31,26 Q34,19.8 38.5,20 Q42,20.6 44.5,23.5 Q47.5,17.6 52,18 Q56,18.8 58.5,22.5 L61,23 L61,26.1 L40,26.5 Z" fill="#5a5e68" fill-opacity="0.22"/></g><linearGradient id="tgd" gradientUnits="userSpaceOnUse" x1="0" y1="11" x2="0" y2="29.8"><stop offset="0" stop-color="#f5f5f8"/><stop offset="0.25" stop-color="#e4e5ea"/><stop offset="0.5" stop-color="#bcbec6"/><stop offset="0.75" stop-color="#8e919a"/><stop offset="1" stop-color="#646870"/></linearGradient><g><path d="M-2,14.6 A8.75,3.50 0 0 1 15.5,14.4 A4.95,2.60 0 0 1 25.4,15.8 Q28,19 27,24 L20,29.5 L-2,29.5 Z" fill="url(#tgd)" stroke="#b9bbc3" stroke-width="0.7" stroke-linejoin="round"/><path d="M-2,29.5 L-2,21.5 Q2.5,18.6 6,19.8 Q10,21.6 13,27 L14.5,29.5 Z" fill="#5a5e68" fill-opacity="0.22"/></g><linearGradient id="tge" gradientUnits="userSpaceOnUse" x1="0" y1="17.4" x2="0" y2="36.6"><stop offset="0" stop-color="#f5f5f8"/><stop offset="0.25" stop-color="#e4e5ea"/><stop offset="0.5" stop-color="#bcbec6"/><stop offset="0.75" stop-color="#8e919a"/><stop offset="1" stop-color="#646870"/></linearGradient><g transform="translate(4,0)"><path d="M5.2,34.6 A5.4,5.4 0 0 1 9.6,25.2 A6.50,4.40 0 0 1 22.6,21.6 A6.80,4.50 0 0 1 36.2,22.2 A4.70,3.00 0 0 1 45.6,25.4 A5.4,5.4 0 0 1 50,34.6 Q27.6,38.4 5.2,34.6 Z" fill="url(#tge)" stroke="#b9bbc3" stroke-width="0.7" stroke-linejoin="round"/><path d="M8,35 L9,30.5 Q13,24 18,24.2 Q22,24.8 25.4,28.2 Q29,24.4 32.4,25 Q36,25.8 39,29.2 Q43,27.2 46,30.4 L47.4,35 Q27.6,37.8 8,35 Z" fill="#5a5e68" fill-opacity="0.22"/></g><line x1="16.9" y1="39.7" x2="12.999999999999998" y2="47.300000000000004" stroke="#dcd6e6" stroke-width="1.35" stroke-linecap="round"/><line x1="29.3" y1="47.4" x2="25.400000000000002" y2="55.0" stroke="#dcd6e6" stroke-width="1.35" stroke-linecap="round"/><line x1="46" y1="39.7" x2="42.1" y2="47.300000000000004" stroke="#dcd6e6" stroke-width="1.35" stroke-linecap="round"/></symbol>
<symbol id="wxG" viewBox="0 0 59 59" overflow="hidden"><rect width="59" height="59" fill="#0a0a12"/><circle cx="19.9" cy="21.6" r="15.9" fill="url(#moonG)"/><circle cx="19.3" cy="15.4" r="2.2" fill="#d2d49a" fill-opacity="0.9"/><circle cx="24.7" cy="20.1" r="2.2" fill="#d2d49a" fill-opacity="0.9"/><circle cx="9.7" cy="17.6" r="1.9" fill="#d2d49a" fill-opacity="0.9"/><circle cx="18.2" cy="26.1" r="2.5" fill="#d2d49a" fill-opacity="0.9"/><circle cx="16.5" cy="23.6" r="1.6" fill="#d2d49a" fill-opacity="0.9"/><linearGradient id="mca" gradientUnits="userSpaceOnUse" x1="0" y1="12" x2="0" y2="37"><stop offset="0" stop-color="#f3f3f7"/><stop offset="0.3" stop-color="#dedfe5"/><stop offset="0.6" stop-color="#a3a5ae"/><stop offset="1" stop-color="#646871"/></linearGradient><g fill="#b4b6be"><circle cx="22.6" cy="30.5" r="5.3"/><circle cx="30.2" cy="23" r="6.7"/><circle cx="39.2" cy="18.4" r="6.8"/><circle cx="48.9" cy="21.5" r="6.4"/><circle cx="56.6" cy="25" r="5.7"/><circle cx="61" cy="29" r="5.5"/><rect x="19.5" y="23.5" width="45.0" height="13.0" rx="5.5" ry="5.5"/></g><g fill="url(#mca)"><circle cx="22.6" cy="30.5" r="4.8"/><circle cx="30.2" cy="23" r="6.2"/><circle cx="39.2" cy="18.4" r="6.3"/><circle cx="48.9" cy="21.5" r="5.9"/><circle cx="56.6" cy="25" r="5.2"/><circle cx="61" cy="29" r="5"/><rect x="20" y="24" width="44" height="12" rx="5" ry="5"/></g><linearGradient id="mcb" gradientUnits="userSpaceOnUse" x1="0" y1="21" x2="0" y2="46"><stop offset="0" stop-color="#f3f3f7"/><stop offset="0.3" stop-color="#dedfe5"/><stop offset="0.6" stop-color="#a3a5ae"/><stop offset="1" stop-color="#646871"/></linearGradient><g fill="#b4b6be"><circle cx="28.2" cy="39.3" r="6.1"/><circle cx="33.5" cy="30" r="6.4"/><circle cx="42.8" cy="26.8" r="6.5"/><circle cx="48.5" cy="31" r="6.0"/><rect x="23.0" y="31.5" width="29.5" height="14.299999999999997" rx="6.5" ry="6.5"/></g><g fill="url(#mcb)"><circle cx="28.2" cy="39.3" r="5.6"/><circle cx="33.5" cy="30" r="5.9"/><circle cx="42.8" cy="26.8" r="6"/><circle cx="48.5" cy="31" r="5.5"/><rect x="23.5" y="32" width="28.5" height="13.299999999999997" rx="6" ry="6"/></g><linearGradient id="mcc" gradientUnits="userSpaceOnUse" x1="0" y1="25" x2="0" y2="46"><stop offset="0" stop-color="#f3f3f7"/><stop offset="0.3" stop-color="#dedfe5"/><stop offset="0.6" stop-color="#a3a5ae"/><stop offset="1" stop-color="#646871"/></linearGradient><g fill="#b4b6be"><circle cx="42.4" cy="40" r="5.8"/><circle cx="46" cy="33.2" r="5.9"/><circle cx="53.8" cy="31.2" r="6.5"/><circle cx="60" cy="35" r="6.0"/><rect x="37.0" y="33.5" width="27.5" height="12.299999999999997" rx="5.8" ry="5.8"/></g><g fill="url(#mcc)"><circle cx="42.4" cy="40" r="5.3"/><circle cx="46" cy="33.2" r="5.4"/><circle cx="53.8" cy="31.2" r="6"/><circle cx="60" cy="35" r="5.5"/><rect x="37.5" y="34" width="26.5" height="11.299999999999997" rx="5.3" ry="5.3"/></g></symbol>
<symbol id="wxH" viewBox="0 0 59 59" overflow="hidden"><rect width="59" height="59" fill="url(#skyOvc)"/><linearGradient id="tha" gradientUnits="userSpaceOnUse" x1="0" y1="2.8" x2="0" y2="20"><stop offset="0" stop-color="#f6f6f9"/><stop offset="0.5" stop-color="#e4e5ea"/><stop offset="1" stop-color="#a6a8b1"/></linearGradient><g><path d="M-2,8.6 A3.75,2.00 0 0 1 5.5,8.2 A6.25,5.90 0 0 1 18,9.4 A4.60,3.40 0 0 1 27.2,10.4 L30.5,11.8 L30,18 L-2,18 Z" fill="url(#tha)" stroke="#b9bbc3" stroke-width="0.7" stroke-linejoin="round"/></g><linearGradient id="thb" gradientUnits="userSpaceOnUse" x1="0" y1="2.8" x2="0" y2="20"><stop offset="0" stop-color="#f6f6f9"/><stop offset="0.5" stop-color="#e4e5ea"/><stop offset="1" stop-color="#a6a8b1"/></linearGradient><g><path d="M41.3,8.4 A4.15,2.10 0 0 1 49.6,7.6 A6.20,5.30 0 0 1 62,9.5 L62,18 L41,18 Z" fill="url(#thb)" stroke="#b9bbc3" stroke-width="0.7" stroke-linejoin="round"/></g><linearGradient id="thc" gradientUnits="userSpaceOnUse" x1="0" y1="7.5" x2="0" y2="26.3"><stop offset="0" stop-color="#f5f5f8"/><stop offset="0.25" stop-color="#e4e5ea"/><stop offset="0.5" stop-color="#bcbec6"/><stop offset="0.75" stop-color="#8e919a"/><stop offset="1" stop-color="#646870"/></linearGradient><g><path d="M23.8,14.8 Q26.5,13.2 30,13.3 A7.30,5.80 0 0 1 44.6,13.6 A5.20,3.00 0 0 1 55,14.6 A3.50,2.00 0 0 1 62,16 L62,26 L49,26.1 Q36,27 28,22 Q24,18 23.8,14.8 Z" fill="url(#thc)" stroke="#b9bbc3" stroke-width="0.7" stroke-linejoin="round"/><path d="M31,26 Q34,19.8 38.5,20 Q42,20.6 44.5,23.5 Q47.5,17.6 52,18 Q56,18.8 58.5,22.5 L61,23 L61,26.1 L40,26.5 Z" fill="#5a5e68" fill-opacity="0.22"/></g><linearGradient id="thd" gradientUnits="userSpaceOnUse" x1="0" y1="11" x2="0" y2="29.8"><stop offset="0" stop-color="#f5f5f8"/><stop offset="0.25" stop-color="#e4e5ea"/><stop offset="0.5" stop-color="#bcbec6"/><stop offset="0.75" stop-color="#8e919a"/><stop offset="1" stop-color="#646870"/></linearGradient><g><path d="M-2,14.6 A8.75,3.50 0 0 1 15.5,14.4 A4.95,2.60 0 0 1 25.4,15.8 Q28,19 27,24 L20,29.5 L-2,29.5 Z" fill="url(#thd)" stroke="#b9bbc3" stroke-width="0.7" stroke-linejoin="round"/><path d="M-2,29.5 L-2,21.5 Q2.5,18.6 6,19.8 Q10,21.6 13,27 L14.5,29.5 Z" fill="#5a5e68" fill-opacity="0.22"/></g><linearGradient id="the" gradientUnits="userSpaceOnUse" x1="0" y1="17.4" x2="0" y2="36.6"><stop offset="0" stop-color="#f5f5f8"/><stop offset="0.25" stop-color="#e4e5ea"/><stop offset="0.5" stop-color="#bcbec6"/><stop offset="0.75" stop-color="#8e919a"/><stop offset="1" stop-color="#646870"/></linearGradient><g><path d="M5.2,34.6 A5.4,5.4 0 0 1 9.6,25.2 A6.50,4.40 0 0 1 22.6,21.6 A6.80,4.50 0 0 1 36.2,22.2 A4.70,3.00 0 0 1 45.6,25.4 A5.4,5.4 0 0 1 50,34.6 Q27.6,38.4 5.2,34.6 Z" fill="url(#the)" stroke="#b9bbc3" stroke-width="0.7" stroke-linejoin="round"/><path d="M8,35 L9,30.5 Q13,24 18,24.2 Q22,24.8 25.4,28.2 Q29,24.4 32.4,25 Q36,25.8 39,29.2 Q43,27.2 46,30.4 L47.4,35 Q27.6,37.8 8,35 Z" fill="#5a5e68" fill-opacity="0.22"/></g></symbol></defs>
<use href="#wxA" x="70.10" y="700.1" width="58.75" height="58.9" preserveAspectRatio="none"/>
<use href="#wxB" x="130.98" y="700.1" width="58.75" height="58.9" preserveAspectRatio="none"/>
<use href="#wxC" x="191.06" y="700.1" width="58.75" height="58.9" preserveAspectRatio="none"/>
<use href="#wxD" x="251.14" y="700.1" width="58.75" height="58.9" preserveAspectRatio="none"/>
<use href="#wxD" x="311.22" y="700.1" width="58.75" height="58.9" preserveAspectRatio="none"/>
<use href="#wxC" x="371.30" y="700.1" width="58.75" height="58.9" preserveAspectRatio="none"/>
<use href="#wxB" x="431.38" y="700.1" width="58.75" height="58.9" preserveAspectRatio="none"/>
<use href="#wxA" x="491.46" y="700.1" width="58.75" height="58.9" preserveAspectRatio="none"/>
<use href="#wxA" x="551.54" y="700.1" width="58.75" height="58.9" preserveAspectRatio="none"/>
<use href="#wxB" x="611.62" y="700.1" width="58.75" height="58.9" preserveAspectRatio="none"/>
<use href="#wxC" x="671.70" y="700.1" width="58.75" height="58.9" preserveAspectRatio="none"/>
<use href="#wxE" x="731.78" y="700.1" width="58.75" height="58.9" preserveAspectRatio="none"/>
<use href="#wxE" x="791.86" y="700.1" width="58.75" height="58.9" preserveAspectRatio="none"/>
<use href="#wxF" x="851.94" y="700.1" width="58.75" height="58.9" preserveAspectRatio="none"/>
<use href="#wxF2" x="912.02" y="700.1" width="58.75" height="58.9" preserveAspectRatio="none"/>
<use href="#wxG" x="972.10" y="700.1" width="58.75" height="58.9" preserveAspectRatio="none"/>
<use href="#wxG" x="1034.00" y="700.1" width="58.75" height="58.9" preserveAspectRatio="none"/>
<use href="#wxC" x="1096.90" y="700.1" width="58.75" height="58.9" preserveAspectRatio="none"/>
<use href="#wxH" x="1156.90" y="700.1" width="58.75" height="58.9" preserveAspectRatio="none"/>
<use href="#wxG" x="1216.95" y="700.1" width="58.75" height="58.9" preserveAspectRatio="none"/>
<use href="#wxG" x="1277.00" y="700.1" width="58.75" height="58.9" preserveAspectRatio="none"/>
<use href="#wxC" x="1337.00" y="700.1" width="58.75" height="58.9" preserveAspectRatio="none"/>
<use href="#wxC" x="1397.00" y="700.1" width="58.75" height="58.9" preserveAspectRatio="none"/>
<use href="#wxA" x="1457.00" y="700.1" width="58.75" height="58.9" preserveAspectRatio="none"/>
<use href="#wxA" x="1517.00" y="700.1" width="58.75" height="58.9" preserveAspectRatio="none"/>
<use href="#wxB" x="1577.00" y="700.1" width="58.75" height="58.9" preserveAspectRatio="none"/>
<use href="#wxB" x="1637.00" y="700.1" width="58.75" height="58.9" preserveAspectRatio="none"/>
<use href="#wxG" x="1697.00" y="700.1" width="58.75" height="58.9" preserveAspectRatio="none"/>
</svg>
</body></html>
